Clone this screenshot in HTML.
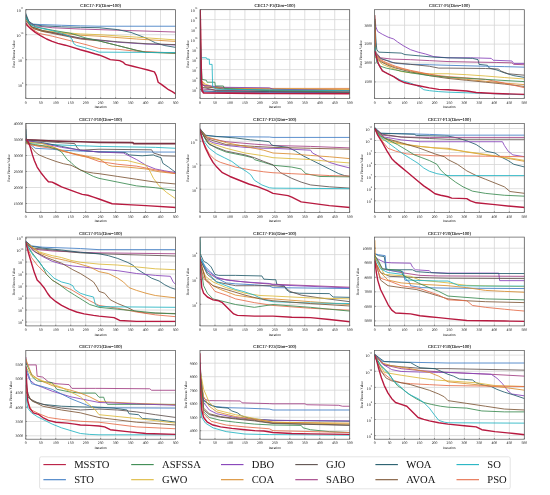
<!DOCTYPE html><html><head><meta charset="utf-8"><style>html,body{margin:0;padding:0;background:#fff;}svg{display:block;}text{font-family:"Liberation Serif","DejaVu Serif",serif;text-rendering:geometricPrecision;}</style></head><body>
<svg width="550" height="495" viewBox="0 0 550 495">
<rect width="550" height="495" fill="#fff"/>
<g stroke="#d6d6d6" stroke-width="0.8"><line x1="25.8" y1="9.7" x2="25.8" y2="98.5"/><line x1="40.77" y1="9.7" x2="40.77" y2="98.5"/><line x1="55.74" y1="9.7" x2="55.74" y2="98.5"/><line x1="70.71" y1="9.7" x2="70.71" y2="98.5"/><line x1="85.68" y1="9.7" x2="85.68" y2="98.5"/><line x1="100.65" y1="9.7" x2="100.65" y2="98.5"/><line x1="115.62" y1="9.7" x2="115.62" y2="98.5"/><line x1="130.59" y1="9.7" x2="130.59" y2="98.5"/><line x1="145.56" y1="9.7" x2="145.56" y2="98.5"/><line x1="160.53" y1="9.7" x2="160.53" y2="98.5"/><line x1="175.5" y1="9.7" x2="175.5" y2="98.5"/><line x1="25.8" y1="9.7" x2="175.5" y2="9.7"/><line x1="25.8" y1="34.7" x2="175.5" y2="34.7"/><line x1="25.8" y1="59.7" x2="175.5" y2="59.7"/><line x1="25.8" y1="84.8" x2="175.5" y2="84.8"/></g>
<g fill="none" stroke-linejoin="round" stroke-linecap="round" clip-path="url(#c0)"><polyline points="25.88,15.52 27.76,21.15 31.52,23.97 39.03,24.53 61.58,25.28 80.36,25.85 99,26.22 176.03,26.22" stroke="#3f7cc4" stroke-width="0.85"/><polyline points="25.88,15.52 29.64,23.03 35.27,25.85 52.18,27.73 80.36,29.04 99,29.61 176.03,32.05" stroke="#a03c82" stroke-width="0.85"/><polyline points="25.88,17.39 31.52,26.79 42.79,30.92 61.58,34.68 80.36,38.44 99,40.32 117.79,42.19 145.97,44.07 176.03,45.01" stroke="#8440b8" stroke-width="0.85"/><polyline points="25.88,13.64 28.7,21.15 33.39,24.53 42.79,25.85 61.58,26.79 80.36,27.35 99,27.73 117.79,29.61 130.94,32.42 145.97,38.06 155.36,42.76 164.76,45.58 176.03,47.45" stroke="#245c6c" stroke-width="0.85"/><polyline points="25.88,19.27 31.52,26.79 42.79,30.55 61.58,32.42 80.36,33.93 99,34.68 136.58,37.12 176.03,39.94" stroke="#dcb83a" stroke-width="0.85"/><polyline points="25.88,20.21 31.52,27.73 42.79,31.48 61.58,33.36 80.36,35.24 99,36.18 136.58,39 176.03,41.44" stroke="#d98c2e" stroke-width="0.85"/><polyline points="25.88,18.33 31.52,26.79 42.79,30.55 61.58,34.3 80.36,38.06 99,39.94 117.79,41.82 145.97,43.7 176.03,44.64" stroke="#5e524e" stroke-width="0.85"/><polyline points="25.88,21.15 33.39,28.67 42.79,31.48 61.58,35.24 80.36,39 99,40.88 117.79,45.58 136.58,50.27 145.97,52.15 176.03,53.09" stroke="#7d5636" stroke-width="0.85"/><polyline points="25.88,24.91 31.52,28.67 39.03,33.36 52.18,36.18 70.97,40.88 86,44.64 99,48.39 117.79,49.33 136.58,51.21 176.03,53.09" stroke="#e56c48" stroke-width="0.85"/><polyline points="25.88,16.45 29.64,23.97 35.27,26.79 52.18,30.17 70.97,33.36 86,38.06 99,40.88 117.79,45.58 136.58,50.46 145.97,52.34 176.03,53.28" stroke="#3a8a50" stroke-width="0.85"/><polyline points="25.88,17.39 29.64,23.97 35.27,26.79 42.79,28.67 52.18,30.55 61.58,33.36 69.09,36.18 71.91,39 73.79,43.7 76.61,45.58 84.12,47.45 95.39,50.84 99,52.15 176.03,52.53" stroke="#22b4c2" stroke-width="0.85"/><polyline points="25.88,23.03 27.76,25.85 30.58,28.67 35.27,32.42 40.91,35.81 46.55,39 52.18,41.44 57.82,43.32 65.33,45.2 72.85,47.45 80.36,49.71 87.88,51.78 95.39,54.03 99,54.97 104.64,57.22 110.27,59.67 119.67,60.61 123.42,62.48 125.3,64.36 132.82,66.24 140.33,68.12 147.85,70 154.42,71.88 156.3,75.64 158.18,82.21 161,84.09 164.76,86.91 168.52,89.73 172.27,91.61 176.03,94.05" stroke="#b81a40" stroke-width="1.4"/></g>
<clipPath id="c0"><rect x="25.8" y="9.7" width="149.7" height="88.8"/></clipPath>
<rect x="25.8" y="9.7" width="149.7" height="88.8" fill="none" stroke="#555" stroke-width="0.7"/>
<g stroke="#555" stroke-width="0.6"><line x1="25.8" y1="98.5" x2="25.8" y2="97.3"/><line x1="40.77" y1="98.5" x2="40.77" y2="97.3"/><line x1="55.74" y1="98.5" x2="55.74" y2="97.3"/><line x1="70.71" y1="98.5" x2="70.71" y2="97.3"/><line x1="85.68" y1="98.5" x2="85.68" y2="97.3"/><line x1="100.65" y1="98.5" x2="100.65" y2="97.3"/><line x1="115.62" y1="98.5" x2="115.62" y2="97.3"/><line x1="130.59" y1="98.5" x2="130.59" y2="97.3"/><line x1="145.56" y1="98.5" x2="145.56" y2="97.3"/><line x1="160.53" y1="98.5" x2="160.53" y2="97.3"/><line x1="175.5" y1="98.5" x2="175.5" y2="97.3"/><line x1="25.8" y1="9.7" x2="27" y2="9.7"/><line x1="25.8" y1="34.7" x2="27" y2="34.7"/><line x1="25.8" y1="59.7" x2="27" y2="59.7"/><line x1="25.8" y1="84.8" x2="27" y2="84.8"/></g>
<g fill="#000"><text transform="translate(25.8 103.7) scale(0.1)" font-size="38" text-anchor="middle">0</text><text transform="translate(40.77 103.7) scale(0.1)" font-size="38" text-anchor="middle">50</text><text transform="translate(55.74 103.7) scale(0.1)" font-size="38" text-anchor="middle">100</text><text transform="translate(70.71 103.7) scale(0.1)" font-size="38" text-anchor="middle">150</text><text transform="translate(85.68 103.7) scale(0.1)" font-size="38" text-anchor="middle">200</text><text transform="translate(100.65 103.7) scale(0.1)" font-size="38" text-anchor="middle">250</text><text transform="translate(115.62 103.7) scale(0.1)" font-size="38" text-anchor="middle">300</text><text transform="translate(130.59 103.7) scale(0.1)" font-size="38" text-anchor="middle">350</text><text transform="translate(145.56 103.7) scale(0.1)" font-size="38" text-anchor="middle">400</text><text transform="translate(160.53 103.7) scale(0.1)" font-size="38" text-anchor="middle">450</text><text transform="translate(175.5 103.7) scale(0.1)" font-size="38" text-anchor="middle">500</text><text transform="translate(23.2 12) scale(0.1)" font-size="40" text-anchor="end">10<tspan font-size="26" dy="-29">11</tspan></text><text transform="translate(23.2 37) scale(0.1)" font-size="40" text-anchor="end">10<tspan font-size="26" dy="-29">10</tspan></text><text transform="translate(23.2 62) scale(0.1)" font-size="40" text-anchor="end">10<tspan font-size="26" dy="-29">9</tspan></text><text transform="translate(23.2 87.1) scale(0.1)" font-size="40" text-anchor="end">10<tspan font-size="26" dy="-29">8</tspan></text><text transform="translate(100.65 108.4) scale(0.1)" font-size="36" text-anchor="middle">Iteration</text><text transform="translate(14.6 54.1) rotate(-90) scale(0.1)" font-size="37" text-anchor="middle">Best Fitness Value</text><text transform="translate(100.65 7.2) scale(0.1)" font-size="46" text-anchor="middle" stroke="#000" stroke-width="0.5">CEC17-F1(Dim=100)</text></g>
<g stroke="#d6d6d6" stroke-width="0.8"><line x1="200" y1="9.7" x2="200" y2="98.5"/><line x1="214.97" y1="9.7" x2="214.97" y2="98.5"/><line x1="229.94" y1="9.7" x2="229.94" y2="98.5"/><line x1="244.91" y1="9.7" x2="244.91" y2="98.5"/><line x1="259.88" y1="9.7" x2="259.88" y2="98.5"/><line x1="274.85" y1="9.7" x2="274.85" y2="98.5"/><line x1="289.82" y1="9.7" x2="289.82" y2="98.5"/><line x1="304.79" y1="9.7" x2="304.79" y2="98.5"/><line x1="319.76" y1="9.7" x2="319.76" y2="98.5"/><line x1="334.73" y1="9.7" x2="334.73" y2="98.5"/><line x1="349.7" y1="9.7" x2="349.7" y2="98.5"/><line x1="200" y1="9.6" x2="349.7" y2="9.6"/><line x1="200" y1="19.6" x2="349.7" y2="19.6"/><line x1="200" y1="29.7" x2="349.7" y2="29.7"/><line x1="200" y1="39.7" x2="349.7" y2="39.7"/><line x1="200" y1="49.7" x2="349.7" y2="49.7"/><line x1="200" y1="59.5" x2="349.7" y2="59.5"/><line x1="200" y1="69.6" x2="349.7" y2="69.6"/><line x1="200" y1="79.6" x2="349.7" y2="79.6"/><line x1="200" y1="89.5" x2="349.7" y2="89.5"/></g>
<g fill="none" stroke-linejoin="round" stroke-linecap="round" clip-path="url(#c1)"><polyline points="200.25,8.94 200.82,45.58 201.19,77.52 201.76,83.15 205.52,86.91 235.58,88.41 269.39,88.41 273,88.41 350.03,88.41" stroke="#e56c48" stroke-width="0.85"/><polyline points="200.25,26.79 201.01,80.33 205.52,84.09 213.03,86.91 235.58,87.85 269.39,88.41 273,88.79 350.03,89.16" stroke="#dcb83a" stroke-width="0.85"/><polyline points="200.25,30.55 201.38,81.27 205.52,85.03 216.79,87.85 269.39,89.16 273,89.16 350.03,89.92" stroke="#d98c2e" stroke-width="0.85"/><polyline points="200.25,36.18 201.01,85.03 222.42,87.28 269.39,87.85 273,89.16 350.03,90.67" stroke="#8440b8" stroke-width="0.85"/><polyline points="200.25,41.82 201.01,83.15 205.52,86.91 226.18,89.16 269.39,90.29 273,90.29 316.21,90.67 350.03,91.04" stroke="#7d5636" stroke-width="0.85"/><polyline points="200.25,45.58 201.38,88.79 216.79,90.29 269.39,91.04 273,91.23 350.03,91.98" stroke="#a03c82" stroke-width="0.85"/><polyline points="200.25,49.33 201.38,86.91 216.79,90.67 269.39,91.61 273,91.61 350.03,92.55" stroke="#5e524e" stroke-width="0.85"/><polyline points="200.25,45.58 201.38,90.67 216.79,91.61 269.39,91.98 273,92.17 350.03,92.92" stroke="#245c6c" stroke-width="0.85"/><polyline points="200.25,54.97 201.76,91.61 216.79,92.17 269.39,92.55 273,92.55 350.03,92.92" stroke="#3f7cc4" stroke-width="0.85"/><polyline points="200.25,45.58 202.13,79.39 206.45,80.33 207.02,82.21 214.91,82.21 215.28,85.97 223.36,85.97 224.3,88.41 269.39,90.67 273,90.67 350.03,92.17" stroke="#3a8a50" stroke-width="0.85"/><polyline points="200.25,36.18 201.38,57.79 206.45,57.79 207.02,59.1 209.27,59.1 209.46,64.36 212.09,64.36 212.65,86.91 216.79,89.16 269.39,89.92 273,89.92 350.03,90.67" stroke="#22b4c2" stroke-width="0.85"/><polyline points="200.07,9.88 200.44,26.79 200.82,54.97 201.38,79.39 202.13,90.67 203.64,92.92 269.39,93.48 273,93.48 350.03,93.67" stroke="#b81a40" stroke-width="1.7"/></g>
<clipPath id="c1"><rect x="200" y="9.7" width="149.7" height="88.8"/></clipPath>
<rect x="200" y="9.7" width="149.7" height="88.8" fill="none" stroke="#555" stroke-width="0.7"/>
<g stroke="#555" stroke-width="0.6"><line x1="200" y1="98.5" x2="200" y2="97.3"/><line x1="214.97" y1="98.5" x2="214.97" y2="97.3"/><line x1="229.94" y1="98.5" x2="229.94" y2="97.3"/><line x1="244.91" y1="98.5" x2="244.91" y2="97.3"/><line x1="259.88" y1="98.5" x2="259.88" y2="97.3"/><line x1="274.85" y1="98.5" x2="274.85" y2="97.3"/><line x1="289.82" y1="98.5" x2="289.82" y2="97.3"/><line x1="304.79" y1="98.5" x2="304.79" y2="97.3"/><line x1="319.76" y1="98.5" x2="319.76" y2="97.3"/><line x1="334.73" y1="98.5" x2="334.73" y2="97.3"/><line x1="349.7" y1="98.5" x2="349.7" y2="97.3"/><line x1="200" y1="9.6" x2="201.2" y2="9.6"/><line x1="200" y1="19.6" x2="201.2" y2="19.6"/><line x1="200" y1="29.7" x2="201.2" y2="29.7"/><line x1="200" y1="39.7" x2="201.2" y2="39.7"/><line x1="200" y1="49.7" x2="201.2" y2="49.7"/><line x1="200" y1="59.5" x2="201.2" y2="59.5"/><line x1="200" y1="69.6" x2="201.2" y2="69.6"/><line x1="200" y1="79.6" x2="201.2" y2="79.6"/><line x1="200" y1="89.5" x2="201.2" y2="89.5"/></g>
<g fill="#000"><text transform="translate(200 103.7) scale(0.1)" font-size="38" text-anchor="middle">0</text><text transform="translate(214.97 103.7) scale(0.1)" font-size="38" text-anchor="middle">50</text><text transform="translate(229.94 103.7) scale(0.1)" font-size="38" text-anchor="middle">100</text><text transform="translate(244.91 103.7) scale(0.1)" font-size="38" text-anchor="middle">150</text><text transform="translate(259.88 103.7) scale(0.1)" font-size="38" text-anchor="middle">200</text><text transform="translate(274.85 103.7) scale(0.1)" font-size="38" text-anchor="middle">250</text><text transform="translate(289.82 103.7) scale(0.1)" font-size="38" text-anchor="middle">300</text><text transform="translate(304.79 103.7) scale(0.1)" font-size="38" text-anchor="middle">350</text><text transform="translate(319.76 103.7) scale(0.1)" font-size="38" text-anchor="middle">400</text><text transform="translate(334.73 103.7) scale(0.1)" font-size="38" text-anchor="middle">450</text><text transform="translate(349.7 103.7) scale(0.1)" font-size="38" text-anchor="middle">500</text><text transform="translate(197.4 11.9) scale(0.1)" font-size="40" text-anchor="end">10<tspan font-size="26" dy="-29">13</tspan></text><text transform="translate(197.4 21.9) scale(0.1)" font-size="40" text-anchor="end">10<tspan font-size="26" dy="-29">12</tspan></text><text transform="translate(197.4 32) scale(0.1)" font-size="40" text-anchor="end">10<tspan font-size="26" dy="-29">11</tspan></text><text transform="translate(197.4 42) scale(0.1)" font-size="40" text-anchor="end">10<tspan font-size="26" dy="-29">10</tspan></text><text transform="translate(197.4 52) scale(0.1)" font-size="40" text-anchor="end">10<tspan font-size="26" dy="-29">9</tspan></text><text transform="translate(197.4 61.8) scale(0.1)" font-size="40" text-anchor="end">10<tspan font-size="26" dy="-29">8</tspan></text><text transform="translate(197.4 71.9) scale(0.1)" font-size="40" text-anchor="end">10<tspan font-size="26" dy="-29">7</tspan></text><text transform="translate(197.4 81.9) scale(0.1)" font-size="40" text-anchor="end">10<tspan font-size="26" dy="-29">6</tspan></text><text transform="translate(197.4 91.8) scale(0.1)" font-size="40" text-anchor="end">10<tspan font-size="26" dy="-29">5</tspan></text><text transform="translate(274.85 108.4) scale(0.1)" font-size="36" text-anchor="middle">Iteration</text><text transform="translate(189.3 54.1) rotate(-90) scale(0.1)" font-size="37" text-anchor="middle">Best Fitness Value</text><text transform="translate(274.85 7.2) scale(0.1)" font-size="46" text-anchor="middle" stroke="#000" stroke-width="0.5">CEC17-F3(Dim=100)</text></g>
<g stroke="#d6d6d6" stroke-width="0.8"><line x1="374.6" y1="9.7" x2="374.6" y2="98.5"/><line x1="389.57" y1="9.7" x2="389.57" y2="98.5"/><line x1="404.54" y1="9.7" x2="404.54" y2="98.5"/><line x1="419.51" y1="9.7" x2="419.51" y2="98.5"/><line x1="434.48" y1="9.7" x2="434.48" y2="98.5"/><line x1="449.45" y1="9.7" x2="449.45" y2="98.5"/><line x1="464.42" y1="9.7" x2="464.42" y2="98.5"/><line x1="479.39" y1="9.7" x2="479.39" y2="98.5"/><line x1="494.36" y1="9.7" x2="494.36" y2="98.5"/><line x1="509.33" y1="9.7" x2="509.33" y2="98.5"/><line x1="524.3" y1="9.7" x2="524.3" y2="98.5"/><line x1="374.6" y1="25.2" x2="524.3" y2="25.2"/><line x1="374.6" y1="44.1" x2="524.3" y2="44.1"/><line x1="374.6" y1="63" x2="524.3" y2="63"/><line x1="374.6" y1="81.9" x2="524.3" y2="81.9"/></g>
<g fill="none" stroke-linejoin="round" stroke-linecap="round" clip-path="url(#c2)"><polyline points="374.88,15.52 375.82,26.79 377.7,31.48 382.39,34.3 388.03,37.12 393.67,39 397.42,41.82 403.06,45.58 410.58,49.71 418.09,52.15 425.61,54.03 433.12,56.47 440.64,57.22 448,57.79 470.55,57.79 491.21,58.35 493.09,60.23 511.88,60.98 513.76,63.42 525.03,63.42" stroke="#8440b8" stroke-width="0.85"/><polyline points="374.88,21.15 375.82,38.06 376.76,49.33 378.64,52.15 388.03,52.53 401.18,53.09 404.94,54.59 419.97,55.91 435,57.22 448,57.79 472.42,58.35 478.06,59.67 479,64.36 487.45,65.3 489.33,68.12 496.85,70 504.36,72.82 513.76,75.64 525.03,77.52" stroke="#245c6c" stroke-width="0.85"/><polyline points="374.88,51.21 380.52,57.79 391.79,59.1 410.58,59.67 429.36,60.61 448,61.55 476.18,62.11 496.85,62.48 511.88,62.86 513.76,64.36 525.03,64.74" stroke="#a03c82" stroke-width="0.85"/><polyline points="374.88,53.09 380.52,58.73 388.03,60.61 395.55,63.42 410.58,64.36 429.36,64.74 448,65.3 485.58,66.24 504.36,66.62 525.03,67.18" stroke="#3f7cc4" stroke-width="0.85"/><polyline points="374.88,52.15 380.52,58.35 391.79,62.48 410.58,64.36 429.36,66.24 438.76,68.12 448,68.12 485.58,68.5 498.73,69.06 500.61,70.94 508.12,73.76 525.03,75.26" stroke="#5e524e" stroke-width="0.85"/><polyline points="374.88,56.85 382.39,64.36 391.79,68.12 401.18,71.5 410.58,72.82 429.36,73.76 448,73.76 466.79,74.7 485.58,76.01 504.36,77.52 525.03,79.02" stroke="#dcb83a" stroke-width="0.85"/><polyline points="374.88,15.52 375.25,36.18 375.63,54.03 380.52,60.61 388.03,64.36 395.55,67.18 403.06,69.06 410.58,70.94 419.97,72.82 429.36,74.7 438.76,76.01 448,77.52 466.79,79.39 485.58,81.27 504.36,83.15 525.03,84.65" stroke="#d98c2e" stroke-width="0.85"/><polyline points="375.07,19.27 375.44,39.94 375.82,55.91 380.52,61.55 388.03,65.3 395.55,68.12 403.06,70 410.58,71.88 419.97,73.76 429.36,75.64 438.76,77.14 448,78.45 466.79,80.33 485.58,82.21 504.36,84.09 525.03,86.53" stroke="#7d5636" stroke-width="0.85"/><polyline points="374.88,30.55 375.25,45.58 375.63,54.03 380.52,59.67 388.03,63.42 395.55,66.24 403.06,68.5 410.58,70.38 419.97,72.25 429.36,74.13 438.76,75.64 448,76.58 466.79,77.89 485.58,79.39 504.36,83.15 525.03,87.85" stroke="#e56c48" stroke-width="0.85"/><polyline points="374.88,45.58 376.76,62.48 380.52,66.24 386.15,68.12 395.55,70 410.58,72.82 429.36,75.64 448,77.14 485.58,79.39 525.03,81.65" stroke="#3a8a50" stroke-width="0.85"/><polyline points="374.88,47.45 376.76,60.61 380.52,68.12 384.27,71.88 391.79,75.64 401.18,80.33 410.58,83.15 419.97,86.91 423.73,89.73 429.36,90.67 438.76,91.61 448,92.17 525.03,94.8" stroke="#22b4c2" stroke-width="0.85"/><polyline points="374.88,51.21 376.38,56.85 378.64,64.36 382.39,70.94 388.03,73.76 393.67,76.58 399.3,80.33 404.94,82.78 410.58,84.09 419.97,85.97 429.36,87.85 438.76,89.35 448,89.73 466.79,91.04 476.18,92.55 494.97,93.48 525.03,94.42" stroke="#b81a40" stroke-width="1.4"/></g>
<clipPath id="c2"><rect x="374.6" y="9.7" width="149.7" height="88.8"/></clipPath>
<rect x="374.6" y="9.7" width="149.7" height="88.8" fill="none" stroke="#555" stroke-width="0.7"/>
<g stroke="#555" stroke-width="0.6"><line x1="374.6" y1="98.5" x2="374.6" y2="97.3"/><line x1="389.57" y1="98.5" x2="389.57" y2="97.3"/><line x1="404.54" y1="98.5" x2="404.54" y2="97.3"/><line x1="419.51" y1="98.5" x2="419.51" y2="97.3"/><line x1="434.48" y1="98.5" x2="434.48" y2="97.3"/><line x1="449.45" y1="98.5" x2="449.45" y2="97.3"/><line x1="464.42" y1="98.5" x2="464.42" y2="97.3"/><line x1="479.39" y1="98.5" x2="479.39" y2="97.3"/><line x1="494.36" y1="98.5" x2="494.36" y2="97.3"/><line x1="509.33" y1="98.5" x2="509.33" y2="97.3"/><line x1="524.3" y1="98.5" x2="524.3" y2="97.3"/><line x1="374.6" y1="25.2" x2="375.8" y2="25.2"/><line x1="374.6" y1="44.1" x2="375.8" y2="44.1"/><line x1="374.6" y1="63" x2="375.8" y2="63"/><line x1="374.6" y1="81.9" x2="375.8" y2="81.9"/></g>
<g fill="#000"><text transform="translate(374.6 103.7) scale(0.1)" font-size="38" text-anchor="middle">0</text><text transform="translate(389.57 103.7) scale(0.1)" font-size="38" text-anchor="middle">50</text><text transform="translate(404.54 103.7) scale(0.1)" font-size="38" text-anchor="middle">100</text><text transform="translate(419.51 103.7) scale(0.1)" font-size="38" text-anchor="middle">150</text><text transform="translate(434.48 103.7) scale(0.1)" font-size="38" text-anchor="middle">200</text><text transform="translate(449.45 103.7) scale(0.1)" font-size="38" text-anchor="middle">250</text><text transform="translate(464.42 103.7) scale(0.1)" font-size="38" text-anchor="middle">300</text><text transform="translate(479.39 103.7) scale(0.1)" font-size="38" text-anchor="middle">350</text><text transform="translate(494.36 103.7) scale(0.1)" font-size="38" text-anchor="middle">400</text><text transform="translate(509.33 103.7) scale(0.1)" font-size="38" text-anchor="middle">450</text><text transform="translate(524.3 103.7) scale(0.1)" font-size="38" text-anchor="middle">500</text><text transform="translate(372 26.5) scale(0.1)" font-size="38" text-anchor="end">3000</text><text transform="translate(372 45.4) scale(0.1)" font-size="38" text-anchor="end">2500</text><text transform="translate(372 64.3) scale(0.1)" font-size="38" text-anchor="end">2000</text><text transform="translate(372 83.2) scale(0.1)" font-size="38" text-anchor="end">1500</text><text transform="translate(449.45 108.4) scale(0.1)" font-size="36" text-anchor="middle">Iteration</text><text transform="translate(361.7 54.1) rotate(-90) scale(0.1)" font-size="37" text-anchor="middle">Best Fitness Value</text><text transform="translate(449.45 7.2) scale(0.1)" font-size="46" text-anchor="middle" stroke="#000" stroke-width="0.5">CEC17-F5(Dim=100)</text></g>
<g stroke="#d6d6d6" stroke-width="0.8"><line x1="25.8" y1="123.6" x2="25.8" y2="212.4"/><line x1="40.77" y1="123.6" x2="40.77" y2="212.4"/><line x1="55.74" y1="123.6" x2="55.74" y2="212.4"/><line x1="70.71" y1="123.6" x2="70.71" y2="212.4"/><line x1="85.68" y1="123.6" x2="85.68" y2="212.4"/><line x1="100.65" y1="123.6" x2="100.65" y2="212.4"/><line x1="115.62" y1="123.6" x2="115.62" y2="212.4"/><line x1="130.59" y1="123.6" x2="130.59" y2="212.4"/><line x1="145.56" y1="123.6" x2="145.56" y2="212.4"/><line x1="160.53" y1="123.6" x2="160.53" y2="212.4"/><line x1="175.5" y1="123.6" x2="175.5" y2="212.4"/><line x1="25.8" y1="123.6" x2="175.5" y2="123.6"/><line x1="25.8" y1="139.6" x2="175.5" y2="139.6"/><line x1="25.8" y1="155.5" x2="175.5" y2="155.5"/><line x1="25.8" y1="171.5" x2="175.5" y2="171.5"/><line x1="25.8" y1="187.5" x2="175.5" y2="187.5"/><line x1="25.8" y1="203.5" x2="175.5" y2="203.5"/></g>
<g fill="none" stroke-linejoin="round" stroke-linecap="round" clip-path="url(#c3)"><polyline points="25.88,139.85 35.27,140.22 48.42,140.79 80.36,141.73 99,142.29 132.82,142.67 133.76,143.61 176.03,143.61" stroke="#7a3040" stroke-width="1.7"/><polyline points="25.88,124.82 26.07,133.27 26.44,139.85 46.55,141.73 74.73,143.61 77.55,148.3 80.36,150.18 99,149.24 151.61,149.81 153.48,153 162.88,155.82 176.03,156.19" stroke="#5e524e" stroke-width="0.85"/><polyline points="25.88,140.79 31.52,142.67 52.18,144.55 70.97,145.48 89.76,146.05 99,146.42 155.36,147.36 176.03,148.3" stroke="#22b4c2" stroke-width="0.85"/><polyline points="25.88,140.79 35.27,148.3 52.18,149.24 61.58,150.18 80.36,151.12 99,151.68 155.36,152.06 176.03,152.06" stroke="#3f7cc4" stroke-width="0.85"/><polyline points="25.88,129.52 26.25,140.79 42.79,142.67 61.58,146.42 80.36,150.18 99,152.06 125.3,152.44 129.06,154.88 142.21,155.82 153.48,154.88 155.36,155.82 161,157.7 162.88,163.33 168.52,167.09 172.27,169.91 176.03,172.73" stroke="#245c6c" stroke-width="0.85"/><polyline points="25.88,140.41 39.03,142.67 61.58,147.36 80.36,150.18 99,152.06 123.42,153 136.58,159.58 145.97,165.21 155.36,168.97 164.76,170.85 176.03,172.73" stroke="#8440b8" stroke-width="0.85"/><polyline points="25.88,141.73 33.39,142.67 42.79,143.61 61.58,150.18 80.36,155.82 99,159.58 127.18,160.52 145.97,165.21 149.73,170.85 153.48,178.36 159.12,185.88 166.64,192.45 176.03,199.03" stroke="#dcb83a" stroke-width="0.85"/><polyline points="25.88,142.67 35.27,145.48 52.18,146.42 61.58,151.12 70.97,153 80.36,154.88 89.76,156.76 99,158.64 108.39,165.21 112.15,166.15 127.18,167.09 145.97,168.97 159.12,171.79 176.03,173.67" stroke="#d98c2e" stroke-width="0.85"/><polyline points="25.88,143.61 39.03,146.42 57.82,149.24 72.85,153.94 86,156.76 99,161.45 117.79,164.27 136.58,166.15 155.36,169.91 176.03,173.67" stroke="#e56c48" stroke-width="0.85"/><polyline points="25.88,142.67 35.27,144.55 46.55,146.42 56.88,149.24 61.58,152.06 64.39,155.82 67.21,159.58 70.97,162.39 74.73,166.15 80.36,169.91 86,172.73 93.52,176.48 99,178.36 117.79,182.12 136.58,185.88 155.36,187.76 176.03,190.58" stroke="#3a8a50" stroke-width="0.85"/><polyline points="25.88,140.79 31.52,147.36 35.27,152.06 39.03,154.88 46.55,158.07 55.94,161.45 63.45,163.71 70.97,165.21 76.61,168.03 80.36,169.91 86,171.79 93.52,173.1 99,173.67 117.79,176.48 136.58,179.3 155.36,182.12 176.03,184" stroke="#7d5636" stroke-width="0.85"/><polyline points="25.88,138.91 28.7,142.67 30.58,148.3 32.45,154.88 34.33,160.52 37.15,167.09 40.91,172.73 44.67,177.42 48.42,181.75 52.18,182.12 55.94,184 61.58,186.82 69.09,189.64 76.61,192.45 82.24,194.33 87.88,195.27 93.52,197.15 99,199.03 112.15,203.73 127.18,204.67 145.97,205.61 176.03,207.48" stroke="#b81a40" stroke-width="1.4"/></g>
<clipPath id="c3"><rect x="25.8" y="123.6" width="149.7" height="88.8"/></clipPath>
<rect x="25.8" y="123.6" width="149.7" height="88.8" fill="none" stroke="#555" stroke-width="0.7"/>
<g stroke="#555" stroke-width="0.6"><line x1="25.8" y1="212.4" x2="25.8" y2="211.2"/><line x1="40.77" y1="212.4" x2="40.77" y2="211.2"/><line x1="55.74" y1="212.4" x2="55.74" y2="211.2"/><line x1="70.71" y1="212.4" x2="70.71" y2="211.2"/><line x1="85.68" y1="212.4" x2="85.68" y2="211.2"/><line x1="100.65" y1="212.4" x2="100.65" y2="211.2"/><line x1="115.62" y1="212.4" x2="115.62" y2="211.2"/><line x1="130.59" y1="212.4" x2="130.59" y2="211.2"/><line x1="145.56" y1="212.4" x2="145.56" y2="211.2"/><line x1="160.53" y1="212.4" x2="160.53" y2="211.2"/><line x1="175.5" y1="212.4" x2="175.5" y2="211.2"/><line x1="25.8" y1="123.6" x2="27" y2="123.6"/><line x1="25.8" y1="139.6" x2="27" y2="139.6"/><line x1="25.8" y1="155.5" x2="27" y2="155.5"/><line x1="25.8" y1="171.5" x2="27" y2="171.5"/><line x1="25.8" y1="187.5" x2="27" y2="187.5"/><line x1="25.8" y1="203.5" x2="27" y2="203.5"/></g>
<g fill="#000"><text transform="translate(25.8 217.6) scale(0.1)" font-size="38" text-anchor="middle">0</text><text transform="translate(40.77 217.6) scale(0.1)" font-size="38" text-anchor="middle">50</text><text transform="translate(55.74 217.6) scale(0.1)" font-size="38" text-anchor="middle">100</text><text transform="translate(70.71 217.6) scale(0.1)" font-size="38" text-anchor="middle">150</text><text transform="translate(85.68 217.6) scale(0.1)" font-size="38" text-anchor="middle">200</text><text transform="translate(100.65 217.6) scale(0.1)" font-size="38" text-anchor="middle">250</text><text transform="translate(115.62 217.6) scale(0.1)" font-size="38" text-anchor="middle">300</text><text transform="translate(130.59 217.6) scale(0.1)" font-size="38" text-anchor="middle">350</text><text transform="translate(145.56 217.6) scale(0.1)" font-size="38" text-anchor="middle">400</text><text transform="translate(160.53 217.6) scale(0.1)" font-size="38" text-anchor="middle">450</text><text transform="translate(175.5 217.6) scale(0.1)" font-size="38" text-anchor="middle">500</text><text transform="translate(23.2 124.9) scale(0.1)" font-size="38" text-anchor="end">40000</text><text transform="translate(23.2 140.9) scale(0.1)" font-size="38" text-anchor="end">35000</text><text transform="translate(23.2 156.8) scale(0.1)" font-size="38" text-anchor="end">30000</text><text transform="translate(23.2 172.8) scale(0.1)" font-size="38" text-anchor="end">25000</text><text transform="translate(23.2 188.8) scale(0.1)" font-size="38" text-anchor="end">20000</text><text transform="translate(23.2 204.8) scale(0.1)" font-size="38" text-anchor="end">15000</text><text transform="translate(100.65 222.3) scale(0.1)" font-size="36" text-anchor="middle">Iteration</text><text transform="translate(10.3 168) rotate(-90) scale(0.1)" font-size="37" text-anchor="middle">Best Fitness Value</text><text transform="translate(100.65 121.1) scale(0.1)" font-size="46" text-anchor="middle" stroke="#000" stroke-width="0.5">CEC17-F10(Dim=100)</text></g>
<g stroke="#d6d6d6" stroke-width="0.8"><line x1="200" y1="123.6" x2="200" y2="212.4"/><line x1="214.97" y1="123.6" x2="214.97" y2="212.4"/><line x1="229.94" y1="123.6" x2="229.94" y2="212.4"/><line x1="244.91" y1="123.6" x2="244.91" y2="212.4"/><line x1="259.88" y1="123.6" x2="259.88" y2="212.4"/><line x1="274.85" y1="123.6" x2="274.85" y2="212.4"/><line x1="289.82" y1="123.6" x2="289.82" y2="212.4"/><line x1="304.79" y1="123.6" x2="304.79" y2="212.4"/><line x1="319.76" y1="123.6" x2="319.76" y2="212.4"/><line x1="334.73" y1="123.6" x2="334.73" y2="212.4"/><line x1="349.7" y1="123.6" x2="349.7" y2="212.4"/><line x1="200" y1="141.3" x2="349.7" y2="141.3"/><line x1="200" y1="165.2" x2="349.7" y2="165.2"/><line x1="200" y1="189.2" x2="349.7" y2="189.2"/></g>
<g fill="none" stroke-linejoin="round" stroke-linecap="round" clip-path="url(#c4)"><polyline points="199.88,128.58 205.52,135.15 216.79,136.65 269.39,137.03 273,137.41 350.03,137.41" stroke="#3f7cc4" stroke-width="0.85"/><polyline points="199.88,129.52 207.39,137.97 226.18,141.73 254.36,144.17 273,145.48 310.58,146.42 350.03,147.93" stroke="#a03c82" stroke-width="0.85"/><polyline points="199.88,128.58 205.52,135.53 235.58,137.97 250.61,139.85 261.88,140.79 269.39,141.73 271.27,144.55 273,145.48 288.03,147.36 295.55,151.12 303.06,155.82 310.58,159.58 319.97,164.27 329.36,168.97 338.76,173.67 344.39,175.55 350.03,176.48" stroke="#245c6c" stroke-width="0.85"/><polyline points="199.88,129.52 205.52,138.91 213.03,142.67 226.18,145.48 244.97,147.36 263.76,148.3 273,148.3 310.58,150.18 312.45,153 318.09,155.82 323.73,159.58 329.36,162.39 338.76,165.21 350.03,168.03" stroke="#8440b8" stroke-width="0.85"/><polyline points="199.88,129.52 207.39,138.91 226.18,144.55 254.36,146.42 273,147.36 310.58,148.3 350.03,149.24" stroke="#7d5636" stroke-width="0.85"/><polyline points="199.88,129.52 207.39,137.03 226.18,142.67 244.97,146.42 263.76,150.18 273,153 291.79,153.94 310.58,155.44 329.36,156.76 350.03,158.64" stroke="#d98c2e" stroke-width="0.85"/><polyline points="199.88,130.45 209.27,142.67 226.18,148.3 244.97,153 263.76,155.82 273,157.7 310.58,159.58 329.36,161.45 350.03,162.96" stroke="#dcb83a" stroke-width="0.85"/><polyline points="199.88,129.52 207.39,142.67 216.79,148.3 226.18,152.06 235.58,153.94 244.97,155.82 252.48,157.7 254.36,159.58 263.76,162.39 273,165.21 291.79,167.09 301.18,168.97 305.88,173.67 319.97,176.48 350.03,176.86" stroke="#3a8a50" stroke-width="0.85"/><polyline points="199.88,129.52 209.27,144.55 226.18,151.12 244.97,154.88 254.36,157.7 263.76,161.45 273,164.84 280.52,172.73 291.79,178.36 301.18,182.12 310.58,184.94 329.36,186.82 350.03,188.13" stroke="#5e524e" stroke-width="0.85"/><polyline points="199.88,130.45 203.64,142.67 209.27,153.94 214.91,159.58 220.55,162.39 235.58,167.09 250.61,169.91 263.76,171.79 273,172.73 291.79,173.67 310.58,174.61 329.36,175.55 350.03,176.11" stroke="#e56c48" stroke-width="0.85"/><polyline points="199.88,131.39 203.64,140.79 209.27,148.3 216.79,153.94 224.3,157.7 231.82,161.45 239.33,167.09 246.85,171.79 250.61,174.61 254.36,180.24 261.88,184.94 269.39,187.76 273,188.13 350.03,188.7" stroke="#22b4c2" stroke-width="0.85"/><polyline points="199.88,129.52 202.7,140.79 205.52,148.3 209.27,155.82 213.03,162.39 216.79,167.09 222.42,172.73 229.94,176.48 239.33,180.24 248.73,184 258.12,186.82 267.52,190.58 273,193.39 288.03,195.65 291.79,197.15 301.18,201.85 310.58,203.16 329.36,205.61 350.03,207.48" stroke="#b81a40" stroke-width="1.4"/></g>
<clipPath id="c4"><rect x="200" y="123.6" width="149.7" height="88.8"/></clipPath>
<rect x="200" y="123.6" width="149.7" height="88.8" fill="none" stroke="#555" stroke-width="0.7"/>
<g stroke="#555" stroke-width="0.6"><line x1="200" y1="212.4" x2="200" y2="211.2"/><line x1="214.97" y1="212.4" x2="214.97" y2="211.2"/><line x1="229.94" y1="212.4" x2="229.94" y2="211.2"/><line x1="244.91" y1="212.4" x2="244.91" y2="211.2"/><line x1="259.88" y1="212.4" x2="259.88" y2="211.2"/><line x1="274.85" y1="212.4" x2="274.85" y2="211.2"/><line x1="289.82" y1="212.4" x2="289.82" y2="211.2"/><line x1="304.79" y1="212.4" x2="304.79" y2="211.2"/><line x1="319.76" y1="212.4" x2="319.76" y2="211.2"/><line x1="334.73" y1="212.4" x2="334.73" y2="211.2"/><line x1="349.7" y1="212.4" x2="349.7" y2="211.2"/><line x1="200" y1="141.3" x2="201.2" y2="141.3"/><line x1="200" y1="165.2" x2="201.2" y2="165.2"/><line x1="200" y1="189.2" x2="201.2" y2="189.2"/></g>
<g fill="#000"><text transform="translate(200 217.6) scale(0.1)" font-size="38" text-anchor="middle">0</text><text transform="translate(214.97 217.6) scale(0.1)" font-size="38" text-anchor="middle">50</text><text transform="translate(229.94 217.6) scale(0.1)" font-size="38" text-anchor="middle">100</text><text transform="translate(244.91 217.6) scale(0.1)" font-size="38" text-anchor="middle">150</text><text transform="translate(259.88 217.6) scale(0.1)" font-size="38" text-anchor="middle">200</text><text transform="translate(274.85 217.6) scale(0.1)" font-size="38" text-anchor="middle">250</text><text transform="translate(289.82 217.6) scale(0.1)" font-size="38" text-anchor="middle">300</text><text transform="translate(304.79 217.6) scale(0.1)" font-size="38" text-anchor="middle">350</text><text transform="translate(319.76 217.6) scale(0.1)" font-size="38" text-anchor="middle">400</text><text transform="translate(334.73 217.6) scale(0.1)" font-size="38" text-anchor="middle">450</text><text transform="translate(349.7 217.6) scale(0.1)" font-size="38" text-anchor="middle">500</text><text transform="translate(197.4 143.6) scale(0.1)" font-size="40" text-anchor="end">10<tspan font-size="26" dy="-29">10</tspan></text><text transform="translate(197.4 167.5) scale(0.1)" font-size="40" text-anchor="end">10<tspan font-size="26" dy="-29">9</tspan></text><text transform="translate(197.4 191.5) scale(0.1)" font-size="40" text-anchor="end">10<tspan font-size="26" dy="-29">8</tspan></text><text transform="translate(274.85 222.3) scale(0.1)" font-size="36" text-anchor="middle">Iteration</text><text transform="translate(188.7 168) rotate(-90) scale(0.1)" font-size="37" text-anchor="middle">Best Fitness Value</text><text transform="translate(274.85 121.1) scale(0.1)" font-size="46" text-anchor="middle" stroke="#000" stroke-width="0.5">CEC17-F12(Dim=100)</text></g>
<g stroke="#d6d6d6" stroke-width="0.8"><line x1="374.6" y1="123.6" x2="374.6" y2="212.4"/><line x1="389.57" y1="123.6" x2="389.57" y2="212.4"/><line x1="404.54" y1="123.6" x2="404.54" y2="212.4"/><line x1="419.51" y1="123.6" x2="419.51" y2="212.4"/><line x1="434.48" y1="123.6" x2="434.48" y2="212.4"/><line x1="449.45" y1="123.6" x2="449.45" y2="212.4"/><line x1="464.42" y1="123.6" x2="464.42" y2="212.4"/><line x1="479.39" y1="123.6" x2="479.39" y2="212.4"/><line x1="494.36" y1="123.6" x2="494.36" y2="212.4"/><line x1="509.33" y1="123.6" x2="509.33" y2="212.4"/><line x1="524.3" y1="123.6" x2="524.3" y2="212.4"/><line x1="374.6" y1="128.5" x2="524.3" y2="128.5"/><line x1="374.6" y1="140.5" x2="524.3" y2="140.5"/><line x1="374.6" y1="152.5" x2="524.3" y2="152.5"/><line x1="374.6" y1="164.5" x2="524.3" y2="164.5"/><line x1="374.6" y1="176.6" x2="524.3" y2="176.6"/><line x1="374.6" y1="188.7" x2="524.3" y2="188.7"/><line x1="374.6" y1="200.8" x2="524.3" y2="200.8"/></g>
<g fill="none" stroke-linejoin="round" stroke-linecap="round" clip-path="url(#c5)"><polyline points="374.88,127.64 380.52,133.27 401.18,133.65 429.36,134.4 448,135.15 525.03,135.15" stroke="#3f7cc4" stroke-width="0.85"/><polyline points="374.88,127.64 380.52,133.27 414.33,134.21 416.21,135.53 444.39,136.09 448,136.09 457.39,137.97 466.79,140.79 476.18,144.55 481.82,148.3 485.58,151.12 494.97,153 500.61,156.76 508.12,160.52 513.76,164.27 525.03,167.09" stroke="#245c6c" stroke-width="0.85"/><polyline points="374.88,128.58 382.39,135.15 401.18,137.03 429.36,137.41 448,137.41 525.03,137.41" stroke="#a03c82" stroke-width="0.85"/><polyline points="374.88,128.58 382.39,134.21 401.18,137.03 429.36,138.53 448,139.28 525.03,139.28" stroke="#5e524e" stroke-width="0.85"/><polyline points="374.88,128.58 384.27,137.03 401.18,139.85 419.97,141.73 448,141.73 502.48,141.73 504.36,145.48 508.12,151.12 512.82,154.88 525.03,156.76" stroke="#8440b8" stroke-width="0.85"/><polyline points="374.88,129.52 384.27,138.91 401.18,143.61 419.97,146.42 435,147.93 448,148.3 466.79,152.06 485.58,154.88 504.36,157.7 525.03,161.45" stroke="#d98c2e" stroke-width="0.85"/><polyline points="374.88,129.52 382.39,139.85 391.79,142.67 410.58,145.48 429.36,147.36 448,149.24 476.18,153 494.97,155.82 513.76,158.64 525.03,160.52" stroke="#dcb83a" stroke-width="0.85"/><polyline points="374.88,129.52 380.52,138.91 388.03,148.3 395.55,151.12 406.82,153.94 419.97,154.88 435,155.82 448,155.82 485.58,156.19 504.36,156.38 525.03,156.76" stroke="#e56c48" stroke-width="0.85"/><polyline points="374.88,128.58 384.27,137.97 401.18,142.67 419.97,148.3 435,153.94 444.39,156.76 448,159.58 457.39,164.27 466.79,170.85 476.18,175.55 485.58,179.3 494.97,183.06 504.36,186.82 510,191.52 525.03,193.39" stroke="#7d5636" stroke-width="0.85"/><polyline points="374.88,129.52 380.52,137.03 388.03,142.67 395.55,148.3 403.06,153.94 410.58,158.64 418.09,163.33 423.73,168.03 429.36,171.22 436.88,173.67 444.39,174.98 448,175.55 525.03,175.55" stroke="#22b4c2" stroke-width="0.85"/><polyline points="374.88,128.58 380.52,136.09 388.03,139.85 397.42,144.55 406.82,150.18 414.33,154.88 421.85,157.7 429.36,160.52 436.88,164.27 440.64,169.91 444.39,173.67 448,176.48 455.52,182.12 463.03,186.82 472.42,191.14 485.58,193.39 504.36,195.27 525.03,196.21" stroke="#3a8a50" stroke-width="0.85"/><polyline points="374.88,128.58 377.7,135.15 382.39,142.67 387.09,151.12 391.79,158.64 395.55,162.39 401.18,167.09 406.82,171.79 412.45,176.48 418.09,181.18 423.73,185.88 429.36,189.64 435,193.77 440.64,195.27 448,196.78 451.76,198.09 466.79,198.65 470.55,200.91 476.18,202.79 494.97,204.67 513.76,206.55 525.03,207.48" stroke="#b81a40" stroke-width="1.4"/></g>
<clipPath id="c5"><rect x="374.6" y="123.6" width="149.7" height="88.8"/></clipPath>
<rect x="374.6" y="123.6" width="149.7" height="88.8" fill="none" stroke="#555" stroke-width="0.7"/>
<g stroke="#555" stroke-width="0.6"><line x1="374.6" y1="212.4" x2="374.6" y2="211.2"/><line x1="389.57" y1="212.4" x2="389.57" y2="211.2"/><line x1="404.54" y1="212.4" x2="404.54" y2="211.2"/><line x1="419.51" y1="212.4" x2="419.51" y2="211.2"/><line x1="434.48" y1="212.4" x2="434.48" y2="211.2"/><line x1="449.45" y1="212.4" x2="449.45" y2="211.2"/><line x1="464.42" y1="212.4" x2="464.42" y2="211.2"/><line x1="479.39" y1="212.4" x2="479.39" y2="211.2"/><line x1="494.36" y1="212.4" x2="494.36" y2="211.2"/><line x1="509.33" y1="212.4" x2="509.33" y2="211.2"/><line x1="524.3" y1="212.4" x2="524.3" y2="211.2"/><line x1="374.6" y1="128.5" x2="375.8" y2="128.5"/><line x1="374.6" y1="140.5" x2="375.8" y2="140.5"/><line x1="374.6" y1="152.5" x2="375.8" y2="152.5"/><line x1="374.6" y1="164.5" x2="375.8" y2="164.5"/><line x1="374.6" y1="176.6" x2="375.8" y2="176.6"/><line x1="374.6" y1="188.7" x2="375.8" y2="188.7"/><line x1="374.6" y1="200.8" x2="375.8" y2="200.8"/></g>
<g fill="#000"><text transform="translate(374.6 217.6) scale(0.1)" font-size="38" text-anchor="middle">0</text><text transform="translate(389.57 217.6) scale(0.1)" font-size="38" text-anchor="middle">50</text><text transform="translate(404.54 217.6) scale(0.1)" font-size="38" text-anchor="middle">100</text><text transform="translate(419.51 217.6) scale(0.1)" font-size="38" text-anchor="middle">150</text><text transform="translate(434.48 217.6) scale(0.1)" font-size="38" text-anchor="middle">200</text><text transform="translate(449.45 217.6) scale(0.1)" font-size="38" text-anchor="middle">250</text><text transform="translate(464.42 217.6) scale(0.1)" font-size="38" text-anchor="middle">300</text><text transform="translate(479.39 217.6) scale(0.1)" font-size="38" text-anchor="middle">350</text><text transform="translate(494.36 217.6) scale(0.1)" font-size="38" text-anchor="middle">400</text><text transform="translate(509.33 217.6) scale(0.1)" font-size="38" text-anchor="middle">450</text><text transform="translate(524.3 217.6) scale(0.1)" font-size="38" text-anchor="middle">500</text><text transform="translate(372 130.8) scale(0.1)" font-size="40" text-anchor="end">10<tspan font-size="26" dy="-29">11</tspan></text><text transform="translate(372 142.8) scale(0.1)" font-size="40" text-anchor="end">10<tspan font-size="26" dy="-29">10</tspan></text><text transform="translate(372 154.8) scale(0.1)" font-size="40" text-anchor="end">10<tspan font-size="26" dy="-29">9</tspan></text><text transform="translate(372 166.8) scale(0.1)" font-size="40" text-anchor="end">10<tspan font-size="26" dy="-29">8</tspan></text><text transform="translate(372 178.9) scale(0.1)" font-size="40" text-anchor="end">10<tspan font-size="26" dy="-29">7</tspan></text><text transform="translate(372 191) scale(0.1)" font-size="40" text-anchor="end">10<tspan font-size="26" dy="-29">6</tspan></text><text transform="translate(372 203.1) scale(0.1)" font-size="40" text-anchor="end">10<tspan font-size="26" dy="-29">5</tspan></text><text transform="translate(449.45 222.3) scale(0.1)" font-size="36" text-anchor="middle">Iteration</text><text transform="translate(363.3 168) rotate(-90) scale(0.1)" font-size="37" text-anchor="middle">Best Fitness Value</text><text transform="translate(449.45 121.1) scale(0.1)" font-size="46" text-anchor="middle" stroke="#000" stroke-width="0.5">CEC17-F13(Dim=100)</text></g>
<g stroke="#d6d6d6" stroke-width="0.8"><line x1="25.8" y1="237.1" x2="25.8" y2="325.9"/><line x1="40.77" y1="237.1" x2="40.77" y2="325.9"/><line x1="55.74" y1="237.1" x2="55.74" y2="325.9"/><line x1="70.71" y1="237.1" x2="70.71" y2="325.9"/><line x1="85.68" y1="237.1" x2="85.68" y2="325.9"/><line x1="100.65" y1="237.1" x2="100.65" y2="325.9"/><line x1="115.62" y1="237.1" x2="115.62" y2="325.9"/><line x1="130.59" y1="237.1" x2="130.59" y2="325.9"/><line x1="145.56" y1="237.1" x2="145.56" y2="325.9"/><line x1="160.53" y1="237.1" x2="160.53" y2="325.9"/><line x1="175.5" y1="237.1" x2="175.5" y2="325.9"/><line x1="25.8" y1="238.1" x2="175.5" y2="238.1"/><line x1="25.8" y1="250.1" x2="175.5" y2="250.1"/><line x1="25.8" y1="262" x2="175.5" y2="262"/><line x1="25.8" y1="274" x2="175.5" y2="274"/><line x1="25.8" y1="286.1" x2="175.5" y2="286.1"/><line x1="25.8" y1="298.1" x2="175.5" y2="298.1"/><line x1="25.8" y1="310" x2="175.5" y2="310"/><line x1="25.8" y1="322" x2="175.5" y2="322"/></g>
<g fill="none" stroke-linejoin="round" stroke-linecap="round" clip-path="url(#c6)"><polyline points="25.88,241.58 31.52,245.9 42.79,247.21 80.36,248.53 99,249.65 176.03,249.65" stroke="#3f7cc4" stroke-width="0.85"/><polyline points="25.88,241.58 33.39,249.09 52.18,250.97 80.36,252.28 99,252.85 176.03,253.79" stroke="#a03c82" stroke-width="0.85"/><polyline points="25.88,241.58 33.39,248.15 52.18,250.03 80.36,252.85 99,253.79 176.03,256.04" stroke="#5e524e" stroke-width="0.85"/><polyline points="25.88,241.58 31.52,246.27 42.79,248.15 61.58,250.03 80.36,252.28 99,253.79 108.39,255.67 117.79,258.48 127.18,262.24 132.82,265.06 136.58,268.82 144.09,273.52 151.61,278.21 159.12,281.03 164.76,284.79 170.39,287.61 176.03,289.48" stroke="#245c6c" stroke-width="0.85"/><polyline points="25.88,242.52 39.03,251.91 52.18,255.67 61.58,257.55 70.97,260.36 80.36,262.24 89.76,263.18 99,264.12 117.79,265.06 136.58,266.94 155.36,268.82 176.03,269.76" stroke="#dcb83a" stroke-width="0.85"/><polyline points="25.88,242.52 33.39,250.97 42.79,256.61 52.18,261.3 61.58,264.12 72.85,266 86,267.32 99,268.82 117.79,270.7 136.58,273.52 155.36,275.39 170.39,276.33 173.21,281.97 176.03,284.79" stroke="#8440b8" stroke-width="0.85"/><polyline points="25.88,242.52 39.03,252.85 52.18,257.55 65.33,260.36 76.61,263.18 89.76,266.94 99,271.64 108.39,273.52 117.79,278.21 123.42,281.97 129.06,287.61 136.58,290.42 145.97,293.24 155.36,295.5 176.03,297.94" stroke="#d98c2e" stroke-width="0.85"/><polyline points="25.88,242.52 35.27,251.91 46.55,257.55 61.58,263.18 72.85,269.76 80.36,273.52 87.88,278.21 93.52,281.97 97.27,287.61 99,291.36 104.64,293.24 110.27,299.82 117.79,303.58 127.18,307.33 134.7,311.09 145.97,312.97 176.03,313.53" stroke="#7d5636" stroke-width="0.85"/><polyline points="25.88,243.45 31.52,257.55 37.15,265.06 44.67,272.58 52.18,280.09 61.58,285.73 70.97,289.48 80.36,295.12 89.76,300.76 99,305.45 117.79,308.27 136.58,312.03 155.36,314.85 176.03,316.73" stroke="#e56c48" stroke-width="0.85"/><polyline points="25.88,242.52 31.52,251.91 37.15,259.42 42.79,266.94 46.55,274.45 52.18,280.09 59.7,284.79 67.21,290.42 74.73,295.12 82.24,299.82 89.76,304.52 99,307.33 117.79,309.21 136.58,311.09 155.36,312.97 176.03,313.91" stroke="#3a8a50" stroke-width="0.85"/><polyline points="25.88,242.52 29.64,250.03 33.39,255.67 39.03,261.3 42.79,266.94 48.42,272.58 54.06,278.21 61.58,281.97 69.09,283.85 72.85,285.73 74.73,289.48 80.36,293.24 86,295.12 93.52,297 95.39,304.52 99,306.39 110.27,306.77 176.03,307.33" stroke="#22b4c2" stroke-width="0.85"/><polyline points="25.88,242.52 28.7,253.79 31.52,263.18 34.33,272.58 37.15,280.09 40.91,283.85 44.67,288.55 47.48,293.24 50.3,297 55.94,301.7 61.58,305.45 69.09,309.21 76.61,312.03 84.12,313.91 93.52,315.41 99,316.16 114.03,317.67 119.67,320.48 136.58,321.42 176.03,321.42" stroke="#b81a40" stroke-width="1.4"/></g>
<clipPath id="c6"><rect x="25.8" y="237.1" width="149.7" height="88.8"/></clipPath>
<rect x="25.8" y="237.1" width="149.7" height="88.8" fill="none" stroke="#555" stroke-width="0.7"/>
<g stroke="#555" stroke-width="0.6"><line x1="25.8" y1="325.9" x2="25.8" y2="324.7"/><line x1="40.77" y1="325.9" x2="40.77" y2="324.7"/><line x1="55.74" y1="325.9" x2="55.74" y2="324.7"/><line x1="70.71" y1="325.9" x2="70.71" y2="324.7"/><line x1="85.68" y1="325.9" x2="85.68" y2="324.7"/><line x1="100.65" y1="325.9" x2="100.65" y2="324.7"/><line x1="115.62" y1="325.9" x2="115.62" y2="324.7"/><line x1="130.59" y1="325.9" x2="130.59" y2="324.7"/><line x1="145.56" y1="325.9" x2="145.56" y2="324.7"/><line x1="160.53" y1="325.9" x2="160.53" y2="324.7"/><line x1="175.5" y1="325.9" x2="175.5" y2="324.7"/><line x1="25.8" y1="238.1" x2="27" y2="238.1"/><line x1="25.8" y1="250.1" x2="27" y2="250.1"/><line x1="25.8" y1="262" x2="27" y2="262"/><line x1="25.8" y1="274" x2="27" y2="274"/><line x1="25.8" y1="286.1" x2="27" y2="286.1"/><line x1="25.8" y1="298.1" x2="27" y2="298.1"/><line x1="25.8" y1="310" x2="27" y2="310"/><line x1="25.8" y1="322" x2="27" y2="322"/></g>
<g fill="#000"><text transform="translate(25.8 331.1) scale(0.1)" font-size="38" text-anchor="middle">0</text><text transform="translate(40.77 331.1) scale(0.1)" font-size="38" text-anchor="middle">50</text><text transform="translate(55.74 331.1) scale(0.1)" font-size="38" text-anchor="middle">100</text><text transform="translate(70.71 331.1) scale(0.1)" font-size="38" text-anchor="middle">150</text><text transform="translate(85.68 331.1) scale(0.1)" font-size="38" text-anchor="middle">200</text><text transform="translate(100.65 331.1) scale(0.1)" font-size="38" text-anchor="middle">250</text><text transform="translate(115.62 331.1) scale(0.1)" font-size="38" text-anchor="middle">300</text><text transform="translate(130.59 331.1) scale(0.1)" font-size="38" text-anchor="middle">350</text><text transform="translate(145.56 331.1) scale(0.1)" font-size="38" text-anchor="middle">400</text><text transform="translate(160.53 331.1) scale(0.1)" font-size="38" text-anchor="middle">450</text><text transform="translate(175.5 331.1) scale(0.1)" font-size="38" text-anchor="middle">500</text><text transform="translate(23.2 240.4) scale(0.1)" font-size="40" text-anchor="end">10<tspan font-size="26" dy="-29">11</tspan></text><text transform="translate(23.2 252.4) scale(0.1)" font-size="40" text-anchor="end">10<tspan font-size="26" dy="-29">10</tspan></text><text transform="translate(23.2 264.3) scale(0.1)" font-size="40" text-anchor="end">10<tspan font-size="26" dy="-29">9</tspan></text><text transform="translate(23.2 276.3) scale(0.1)" font-size="40" text-anchor="end">10<tspan font-size="26" dy="-29">8</tspan></text><text transform="translate(23.2 288.4) scale(0.1)" font-size="40" text-anchor="end">10<tspan font-size="26" dy="-29">7</tspan></text><text transform="translate(23.2 300.4) scale(0.1)" font-size="40" text-anchor="end">10<tspan font-size="26" dy="-29">6</tspan></text><text transform="translate(23.2 312.3) scale(0.1)" font-size="40" text-anchor="end">10<tspan font-size="26" dy="-29">5</tspan></text><text transform="translate(23.2 324.3) scale(0.1)" font-size="40" text-anchor="end">10<tspan font-size="26" dy="-29">4</tspan></text><text transform="translate(100.65 335.8) scale(0.1)" font-size="36" text-anchor="middle">Iteration</text><text transform="translate(14.9 281.5) rotate(-90) scale(0.1)" font-size="37" text-anchor="middle">Best Fitness Value</text><text transform="translate(100.65 234.6) scale(0.1)" font-size="46" text-anchor="middle" stroke="#000" stroke-width="0.5">CEC17-F15(Dim=100)</text></g>
<g stroke="#d6d6d6" stroke-width="0.8"><line x1="200" y1="237.1" x2="200" y2="325.9"/><line x1="214.97" y1="237.1" x2="214.97" y2="325.9"/><line x1="229.94" y1="237.1" x2="229.94" y2="325.9"/><line x1="244.91" y1="237.1" x2="244.91" y2="325.9"/><line x1="259.88" y1="237.1" x2="259.88" y2="325.9"/><line x1="274.85" y1="237.1" x2="274.85" y2="325.9"/><line x1="289.82" y1="237.1" x2="289.82" y2="325.9"/><line x1="304.79" y1="237.1" x2="304.79" y2="325.9"/><line x1="319.76" y1="237.1" x2="319.76" y2="325.9"/><line x1="334.73" y1="237.1" x2="334.73" y2="325.9"/><line x1="349.7" y1="237.1" x2="349.7" y2="325.9"/><line x1="200" y1="254.6" x2="349.7" y2="254.6"/><line x1="200" y1="279.5" x2="349.7" y2="279.5"/><line x1="200" y1="304.3" x2="349.7" y2="304.3"/></g>
<g fill="none" stroke-linejoin="round" stroke-linecap="round" clip-path="url(#c7)"><polyline points="199.88,237.25 200.07,246.27 200.25,253.79 203.64,261.3 207.39,263.18 211.15,266.94 214.91,274.45 218.67,275.39 235.58,275.39 261.88,275.96 263.76,279.15 273,279.72 275.82,279.72 276.76,284.22 284.27,285.73 286.15,289.48 289.91,292.3 299.3,293.24 329.36,293.62 333.12,297 350.03,297.38" stroke="#245c6c" stroke-width="0.85"/><polyline points="199.88,259.42 207.39,272.58 216.79,278.21 235.58,281.03 254.36,282.91 273,284.22 350.03,287.23" stroke="#a03c82" stroke-width="0.85"/><polyline points="199.88,259.42 207.39,270.7 216.79,277.27 226.18,280.09 244.97,281.97 269.39,283.47 273,284.79 350.03,287.98" stroke="#8440b8" stroke-width="0.85"/><polyline points="199.88,242.52 200.07,251.91 200.25,257.55 205.52,266.94 211.15,272.58 216.79,278.21 226.18,282.91 235.58,283.85 254.36,284.79 269.39,286.1 273,287.61 350.03,288.55" stroke="#3f7cc4" stroke-width="0.85"/><polyline points="199.88,259.42 207.39,274.45 216.79,281.97 235.58,285.73 254.36,285.73 273,285.73 284.27,286.67 289.91,291.36 301.18,295.12 319.97,297.94 335,299.82 350.03,301.7" stroke="#5e524e" stroke-width="0.85"/><polyline points="199.88,263.18 205.52,276.33 213.03,281.97 226.18,287.61 244.97,293.24 260,295.5 273,296.06 310.58,297.94 350.03,298.88" stroke="#dcb83a" stroke-width="0.85"/><polyline points="199.88,240.64 200.07,251.91 200.25,261.3 205.52,278.21 213.03,285.73 220.55,289.48 235.58,295.12 254.36,297.94 273,298.88 310.58,301.7 350.03,304.52" stroke="#d98c2e" stroke-width="0.85"/><polyline points="199.88,238.76 200.07,250.03 200.25,257.55 207.39,272.58 216.79,281.97 226.18,285.73 235.58,289.48 243.09,291.36 254.36,295.12 263.76,299.82 273,301.7 310.58,303.01 350.03,303.58" stroke="#22b4c2" stroke-width="0.85"/><polyline points="199.88,259.42 205.52,280.09 213.03,285.73 226.18,289.48 244.97,295.12 260,298.88 273,300.76 310.58,303.58 350.03,306.02" stroke="#7d5636" stroke-width="0.85"/><polyline points="199.88,263.18 203.64,278.21 209.27,283.85 214.91,291.36 226.18,295.12 235.58,298.88 254.36,302.64 273,305.45 310.58,308.27 350.03,310.15" stroke="#e56c48" stroke-width="0.85"/><polyline points="199.88,261.3 203.64,285.73 207.39,293.24 213.03,298.88 220.55,300.76 235.58,304.52 254.36,307.33 273,304.52 310.58,307.33 329.36,309.21 350.03,311.09" stroke="#3a8a50" stroke-width="0.85"/><polyline points="199.88,257.55 200.63,272.58 201.76,287.61 203.64,293.24 207.39,297 213.03,299.82 218.67,300.76 222.42,302.64 226.18,306.39 229.94,310.15 233.7,313.91 237.45,315.41 254.36,316.16 273,316.16 291.79,317.29 310.58,317.67 329.36,319.55 350.03,321.8" stroke="#b81a40" stroke-width="1.4"/></g>
<clipPath id="c7"><rect x="200" y="237.1" width="149.7" height="88.8"/></clipPath>
<rect x="200" y="237.1" width="149.7" height="88.8" fill="none" stroke="#555" stroke-width="0.7"/>
<g stroke="#555" stroke-width="0.6"><line x1="200" y1="325.9" x2="200" y2="324.7"/><line x1="214.97" y1="325.9" x2="214.97" y2="324.7"/><line x1="229.94" y1="325.9" x2="229.94" y2="324.7"/><line x1="244.91" y1="325.9" x2="244.91" y2="324.7"/><line x1="259.88" y1="325.9" x2="259.88" y2="324.7"/><line x1="274.85" y1="325.9" x2="274.85" y2="324.7"/><line x1="289.82" y1="325.9" x2="289.82" y2="324.7"/><line x1="304.79" y1="325.9" x2="304.79" y2="324.7"/><line x1="319.76" y1="325.9" x2="319.76" y2="324.7"/><line x1="334.73" y1="325.9" x2="334.73" y2="324.7"/><line x1="349.7" y1="325.9" x2="349.7" y2="324.7"/><line x1="200" y1="254.6" x2="201.2" y2="254.6"/><line x1="200" y1="279.5" x2="201.2" y2="279.5"/><line x1="200" y1="304.3" x2="201.2" y2="304.3"/></g>
<g fill="#000"><text transform="translate(200 331.1) scale(0.1)" font-size="38" text-anchor="middle">0</text><text transform="translate(214.97 331.1) scale(0.1)" font-size="38" text-anchor="middle">50</text><text transform="translate(229.94 331.1) scale(0.1)" font-size="38" text-anchor="middle">100</text><text transform="translate(244.91 331.1) scale(0.1)" font-size="38" text-anchor="middle">150</text><text transform="translate(259.88 331.1) scale(0.1)" font-size="38" text-anchor="middle">200</text><text transform="translate(274.85 331.1) scale(0.1)" font-size="38" text-anchor="middle">250</text><text transform="translate(289.82 331.1) scale(0.1)" font-size="38" text-anchor="middle">300</text><text transform="translate(304.79 331.1) scale(0.1)" font-size="38" text-anchor="middle">350</text><text transform="translate(319.76 331.1) scale(0.1)" font-size="38" text-anchor="middle">400</text><text transform="translate(334.73 331.1) scale(0.1)" font-size="38" text-anchor="middle">450</text><text transform="translate(349.7 331.1) scale(0.1)" font-size="38" text-anchor="middle">500</text><text transform="translate(197.4 256.9) scale(0.1)" font-size="40" text-anchor="end">10<tspan font-size="26" dy="-29">4</tspan></text><text transform="translate(197.4 281.8) scale(0.1)" font-size="40" text-anchor="end">10<tspan font-size="26" dy="-29">3</tspan></text><text transform="translate(197.4 306.6) scale(0.1)" font-size="40" text-anchor="end">10<tspan font-size="26" dy="-29">2</tspan></text><text transform="translate(274.85 335.8) scale(0.1)" font-size="36" text-anchor="middle">Iteration</text><text transform="translate(189.3 281.5) rotate(-90) scale(0.1)" font-size="37" text-anchor="middle">Best Fitness Value</text><text transform="translate(274.85 234.6) scale(0.1)" font-size="46" text-anchor="middle" stroke="#000" stroke-width="0.5">CEC17-F16(Dim=100)</text></g>
<g stroke="#d6d6d6" stroke-width="0.8"><line x1="374.6" y1="237.1" x2="374.6" y2="325.9"/><line x1="389.57" y1="237.1" x2="389.57" y2="325.9"/><line x1="404.54" y1="237.1" x2="404.54" y2="325.9"/><line x1="419.51" y1="237.1" x2="419.51" y2="325.9"/><line x1="434.48" y1="237.1" x2="434.48" y2="325.9"/><line x1="449.45" y1="237.1" x2="449.45" y2="325.9"/><line x1="464.42" y1="237.1" x2="464.42" y2="325.9"/><line x1="479.39" y1="237.1" x2="479.39" y2="325.9"/><line x1="494.36" y1="237.1" x2="494.36" y2="325.9"/><line x1="509.33" y1="237.1" x2="509.33" y2="325.9"/><line x1="524.3" y1="237.1" x2="524.3" y2="325.9"/><line x1="374.6" y1="248.2" x2="524.3" y2="248.2"/><line x1="374.6" y1="262.8" x2="524.3" y2="262.8"/><line x1="374.6" y1="277.3" x2="524.3" y2="277.3"/><line x1="374.6" y1="291.8" x2="524.3" y2="291.8"/><line x1="374.6" y1="306.4" x2="524.3" y2="306.4"/><line x1="374.6" y1="320.9" x2="524.3" y2="320.9"/></g>
<g fill="none" stroke-linejoin="round" stroke-linecap="round" clip-path="url(#c8)"><polyline points="374.88,257.55 378.64,259.42 384.27,262.24 391.79,262.81 410.58,263.18 412.45,266.94 415.27,269.76 429.36,270.7 431.24,272.58 448,273.14 498.73,273.14 499.67,280.65 525.03,280.65" stroke="#8440b8" stroke-width="0.85"/><polyline points="374.88,253.79 378.64,255.67 384.27,256.61 386.15,269.76 412.45,269.76 416.21,271.64 429.36,272.58 448,273.52 525.03,273.52" stroke="#245c6c" stroke-width="0.85"/><polyline points="374.88,255.67 382.39,268.82 401.18,272.58 419.97,275.39 438.76,275.96 448,275.96 525.03,276.33" stroke="#a03c82" stroke-width="0.85"/><polyline points="374.88,261.3 380.52,272.58 389.91,276.33 410.58,277.27 429.36,277.84 448,278.21 525.03,278.59" stroke="#5e524e" stroke-width="0.85"/><polyline points="374.88,255.67 380.52,266.94 384.27,274.45 410.58,276.33 419.97,280.09 438.76,281.97 448,282.91 457.39,284.22 466.79,285.35 525.03,286.67" stroke="#dcb83a" stroke-width="0.85"/><polyline points="374.88,257.55 380.52,268.82 388.03,272.58 403.06,274.45 406.82,280.09 438.76,281.03 448,281.03 459.27,285.73 485.58,286.1 525.03,286.1" stroke="#22b4c2" stroke-width="0.85"/><polyline points="374.88,253.79 378.64,254.73 385.21,255.67 386.15,268.82 391.79,270.7 403.06,271.64 404.94,280.09 408.7,281.03 410.58,285.73 421.85,287.61 448,288.17 525.03,288.55" stroke="#3f7cc4" stroke-width="0.85"/><polyline points="374.88,240.64 375.25,253.79 375.82,263.18 377.7,266 380.52,272.58 388.03,280.09 401.18,282.91 419.97,284.22 448,285.73 466.79,287.61 485.58,290.42 504.36,291.36 525.03,292.3" stroke="#d98c2e" stroke-width="0.85"/><polyline points="374.88,255.67 378.64,261.3 382.39,268.82 401.18,270.7 403.06,275.39 419.97,283.85 438.76,291.36 448,296.06 485.58,298.88 525.03,299.82" stroke="#3a8a50" stroke-width="0.85"/><polyline points="374.88,259.42 380.52,280.09 388.03,285.73 401.18,287.61 416.21,289.48 429.36,293.24 438.76,296.06 448,298.88 466.79,300.76 485.58,301.7 525.03,302.64" stroke="#7d5636" stroke-width="0.85"/><polyline points="374.88,261.3 380.52,278.21 391.79,281.97 401.18,285.73 419.97,288.55 438.76,295.12 448,299.82 466.79,300.76 472.42,305.45 485.58,307.33 504.36,309.21 513.76,310.15 525.03,311.09" stroke="#e56c48" stroke-width="0.85"/><polyline points="374.88,261.3 376.38,272.58 377.7,280.09 380.52,289.48 384.27,297 388.03,304.52 391.79,310.15 395.55,312.97 410.58,313.91 419.97,315.79 429.36,316.73 438.76,317.67 448,318.61 466.79,320.48 504.36,321.05 525.03,321.42" stroke="#b81a40" stroke-width="1.4"/></g>
<clipPath id="c8"><rect x="374.6" y="237.1" width="149.7" height="88.8"/></clipPath>
<rect x="374.6" y="237.1" width="149.7" height="88.8" fill="none" stroke="#555" stroke-width="0.7"/>
<g stroke="#555" stroke-width="0.6"><line x1="374.6" y1="325.9" x2="374.6" y2="324.7"/><line x1="389.57" y1="325.9" x2="389.57" y2="324.7"/><line x1="404.54" y1="325.9" x2="404.54" y2="324.7"/><line x1="419.51" y1="325.9" x2="419.51" y2="324.7"/><line x1="434.48" y1="325.9" x2="434.48" y2="324.7"/><line x1="449.45" y1="325.9" x2="449.45" y2="324.7"/><line x1="464.42" y1="325.9" x2="464.42" y2="324.7"/><line x1="479.39" y1="325.9" x2="479.39" y2="324.7"/><line x1="494.36" y1="325.9" x2="494.36" y2="324.7"/><line x1="509.33" y1="325.9" x2="509.33" y2="324.7"/><line x1="524.3" y1="325.9" x2="524.3" y2="324.7"/><line x1="374.6" y1="248.2" x2="375.8" y2="248.2"/><line x1="374.6" y1="262.8" x2="375.8" y2="262.8"/><line x1="374.6" y1="277.3" x2="375.8" y2="277.3"/><line x1="374.6" y1="291.8" x2="375.8" y2="291.8"/><line x1="374.6" y1="306.4" x2="375.8" y2="306.4"/><line x1="374.6" y1="320.9" x2="375.8" y2="320.9"/></g>
<g fill="#000"><text transform="translate(374.6 331.1) scale(0.1)" font-size="38" text-anchor="middle">0</text><text transform="translate(389.57 331.1) scale(0.1)" font-size="38" text-anchor="middle">50</text><text transform="translate(404.54 331.1) scale(0.1)" font-size="38" text-anchor="middle">100</text><text transform="translate(419.51 331.1) scale(0.1)" font-size="38" text-anchor="middle">150</text><text transform="translate(434.48 331.1) scale(0.1)" font-size="38" text-anchor="middle">200</text><text transform="translate(449.45 331.1) scale(0.1)" font-size="38" text-anchor="middle">250</text><text transform="translate(464.42 331.1) scale(0.1)" font-size="38" text-anchor="middle">300</text><text transform="translate(479.39 331.1) scale(0.1)" font-size="38" text-anchor="middle">350</text><text transform="translate(494.36 331.1) scale(0.1)" font-size="38" text-anchor="middle">400</text><text transform="translate(509.33 331.1) scale(0.1)" font-size="38" text-anchor="middle">450</text><text transform="translate(524.3 331.1) scale(0.1)" font-size="38" text-anchor="middle">500</text><text transform="translate(372 249.5) scale(0.1)" font-size="38" text-anchor="end">10000</text><text transform="translate(372 264.1) scale(0.1)" font-size="38" text-anchor="end">9000</text><text transform="translate(372 278.6) scale(0.1)" font-size="38" text-anchor="end">8000</text><text transform="translate(372 293.1) scale(0.1)" font-size="38" text-anchor="end">7000</text><text transform="translate(372 307.7) scale(0.1)" font-size="38" text-anchor="end">6000</text><text transform="translate(372 322.2) scale(0.1)" font-size="38" text-anchor="end">5000</text><text transform="translate(449.45 335.8) scale(0.1)" font-size="36" text-anchor="middle">Iteration</text><text transform="translate(359.2 281.5) rotate(-90) scale(0.1)" font-size="37" text-anchor="middle">Best Fitness Value</text><text transform="translate(449.45 234.6) scale(0.1)" font-size="46" text-anchor="middle" stroke="#000" stroke-width="0.5">CEC17-F20(Dim=100)</text></g>
<g stroke="#d6d6d6" stroke-width="0.8"><line x1="25.8" y1="350.4" x2="25.8" y2="439.2"/><line x1="40.77" y1="350.4" x2="40.77" y2="439.2"/><line x1="55.74" y1="350.4" x2="55.74" y2="439.2"/><line x1="70.71" y1="350.4" x2="70.71" y2="439.2"/><line x1="85.68" y1="350.4" x2="85.68" y2="439.2"/><line x1="100.65" y1="350.4" x2="100.65" y2="439.2"/><line x1="115.62" y1="350.4" x2="115.62" y2="439.2"/><line x1="130.59" y1="350.4" x2="130.59" y2="439.2"/><line x1="145.56" y1="350.4" x2="145.56" y2="439.2"/><line x1="160.53" y1="350.4" x2="160.53" y2="439.2"/><line x1="175.5" y1="350.4" x2="175.5" y2="439.2"/><line x1="25.8" y1="364.3" x2="175.5" y2="364.3"/><line x1="25.8" y1="378.6" x2="175.5" y2="378.6"/><line x1="25.8" y1="392.9" x2="175.5" y2="392.9"/><line x1="25.8" y1="407.2" x2="175.5" y2="407.2"/><line x1="25.8" y1="421.5" x2="175.5" y2="421.5"/><line x1="25.8" y1="435.8" x2="175.5" y2="435.8"/></g>
<g fill="none" stroke-linejoin="round" stroke-linecap="round" clip-path="url(#c9)"><polyline points="25.88,357.39 26.82,364.91 36.21,364.91 37.15,376.18 42.79,377.12 48.42,381.82 55.94,383.7 69.09,384.64 71.91,388.39 95.39,388.39 99,388.39 149.73,388.77 151.61,390.27 176.03,390.27" stroke="#a03c82" stroke-width="0.85"/><polyline points="25.88,363.03 29.64,370.55 33.39,378.06 37.15,380.88 52.18,382.76 56.88,389.33 70.97,392.15 80.36,393.09 95.39,393.09 99,397.22 103.7,397.22 104.64,400.23 107.45,404.36 176.03,404.36" stroke="#3a8a50" stroke-width="0.85"/><polyline points="25.88,359.27 31.52,374.3 39.03,379.94 52.18,385.58 70.97,390.27 80.36,393.09 89.76,396.85 99,401.55 136.58,403.42 176.03,404.74" stroke="#d98c2e" stroke-width="0.85"/><polyline points="25.88,370.55 29.64,379.94 35.27,384.64 42.79,387.45 52.18,391.21 61.58,394.03 70.97,396.85 80.36,398.73 89.76,400.61 99,402.48 176.03,405.3" stroke="#8440b8" stroke-width="0.85"/><polyline points="25.88,366.79 31.52,383.7 39.03,385.58 52.18,389.33 70.97,398.73 89.76,406.24 99,407.75 176.03,408.12" stroke="#3f7cc4" stroke-width="0.85"/><polyline points="25.88,376.18 27.76,396.85 33.39,401.55 42.79,404.36 61.58,406.24 89.76,407.18 99,407.18 114.03,408.12 127.18,410 129.06,413.76 138.45,414.7 142.21,418.45 155.36,419.39 176.03,422.21" stroke="#245c6c" stroke-width="0.85"/><polyline points="25.88,385.58 29.64,398.73 37.15,402.48 46.55,405.3 61.58,408.12 80.36,410 99,409.06 117.79,410 136.58,411.88 155.36,414.7 176.03,417.52" stroke="#5e524e" stroke-width="0.85"/><polyline points="25.88,366.79 31.52,376.18 42.79,380.88 61.58,387.45 80.36,396.85 95.39,410 99,414.7 136.58,418.45 176.03,423.15" stroke="#dcb83a" stroke-width="0.85"/><polyline points="25.88,391.21 31.52,400.61 42.79,406.24 61.58,410 80.36,412.82 99,417.52 136.58,422.21 176.03,425.03" stroke="#7d5636" stroke-width="0.85"/><polyline points="25.88,385.58 27.76,402.48 31.52,410 39.03,413.76 48.42,417.52 61.58,419.39 80.36,421.27 99,422.21 136.58,426.91 176.03,428.79" stroke="#e56c48" stroke-width="0.85"/><polyline points="25.88,394.97 27.76,408.12 31.52,412.82 37.15,416.58 42.79,419.39 52.18,424.09 61.58,427.85 70.97,430.67 80.36,433.48 89.76,434.42 99,434.8 176.03,434.8" stroke="#22b4c2" stroke-width="0.85"/><polyline points="25.88,366.79 26.82,385.58 27.76,400.61 29.64,408.12 33.39,412.82 39.03,414.7 42.79,417.52 48.42,420.33 55.94,422.21 67.21,423.15 74.73,424.09 80.36,425.03 89.76,425.41 99,425.97 104.64,426.91 110.27,429.73 127.18,431.61 145.97,433.48 176.03,434.42" stroke="#b81a40" stroke-width="1.4"/></g>
<clipPath id="c9"><rect x="25.8" y="350.4" width="149.7" height="88.8"/></clipPath>
<rect x="25.8" y="350.4" width="149.7" height="88.8" fill="none" stroke="#555" stroke-width="0.7"/>
<g stroke="#555" stroke-width="0.6"><line x1="25.8" y1="439.2" x2="25.8" y2="438"/><line x1="40.77" y1="439.2" x2="40.77" y2="438"/><line x1="55.74" y1="439.2" x2="55.74" y2="438"/><line x1="70.71" y1="439.2" x2="70.71" y2="438"/><line x1="85.68" y1="439.2" x2="85.68" y2="438"/><line x1="100.65" y1="439.2" x2="100.65" y2="438"/><line x1="115.62" y1="439.2" x2="115.62" y2="438"/><line x1="130.59" y1="439.2" x2="130.59" y2="438"/><line x1="145.56" y1="439.2" x2="145.56" y2="438"/><line x1="160.53" y1="439.2" x2="160.53" y2="438"/><line x1="175.5" y1="439.2" x2="175.5" y2="438"/><line x1="25.8" y1="364.3" x2="27" y2="364.3"/><line x1="25.8" y1="378.6" x2="27" y2="378.6"/><line x1="25.8" y1="392.9" x2="27" y2="392.9"/><line x1="25.8" y1="407.2" x2="27" y2="407.2"/><line x1="25.8" y1="421.5" x2="27" y2="421.5"/><line x1="25.8" y1="435.8" x2="27" y2="435.8"/></g>
<g fill="#000"><text transform="translate(25.8 444.4) scale(0.1)" font-size="38" text-anchor="middle">0</text><text transform="translate(40.77 444.4) scale(0.1)" font-size="38" text-anchor="middle">50</text><text transform="translate(55.74 444.4) scale(0.1)" font-size="38" text-anchor="middle">100</text><text transform="translate(70.71 444.4) scale(0.1)" font-size="38" text-anchor="middle">150</text><text transform="translate(85.68 444.4) scale(0.1)" font-size="38" text-anchor="middle">200</text><text transform="translate(100.65 444.4) scale(0.1)" font-size="38" text-anchor="middle">250</text><text transform="translate(115.62 444.4) scale(0.1)" font-size="38" text-anchor="middle">300</text><text transform="translate(130.59 444.4) scale(0.1)" font-size="38" text-anchor="middle">350</text><text transform="translate(145.56 444.4) scale(0.1)" font-size="38" text-anchor="middle">400</text><text transform="translate(160.53 444.4) scale(0.1)" font-size="38" text-anchor="middle">450</text><text transform="translate(175.5 444.4) scale(0.1)" font-size="38" text-anchor="middle">500</text><text transform="translate(23.2 365.6) scale(0.1)" font-size="38" text-anchor="end">5500</text><text transform="translate(23.2 379.9) scale(0.1)" font-size="38" text-anchor="end">5000</text><text transform="translate(23.2 394.2) scale(0.1)" font-size="38" text-anchor="end">4500</text><text transform="translate(23.2 408.5) scale(0.1)" font-size="38" text-anchor="end">4000</text><text transform="translate(23.2 422.8) scale(0.1)" font-size="38" text-anchor="end">3500</text><text transform="translate(23.2 437.1) scale(0.1)" font-size="38" text-anchor="end">3000</text><text transform="translate(100.65 449.1) scale(0.1)" font-size="36" text-anchor="middle">Iteration</text><text transform="translate(12.3 394.8) rotate(-90) scale(0.1)" font-size="37" text-anchor="middle">Best Fitness Value</text><text transform="translate(100.65 347.9) scale(0.1)" font-size="46" text-anchor="middle" stroke="#000" stroke-width="0.5">CEC17-F21(Dim=100)</text></g>
<g stroke="#d6d6d6" stroke-width="0.8"><line x1="200" y1="350.4" x2="200" y2="439.2"/><line x1="214.97" y1="350.4" x2="214.97" y2="439.2"/><line x1="229.94" y1="350.4" x2="229.94" y2="439.2"/><line x1="244.91" y1="350.4" x2="244.91" y2="439.2"/><line x1="259.88" y1="350.4" x2="259.88" y2="439.2"/><line x1="274.85" y1="350.4" x2="274.85" y2="439.2"/><line x1="289.82" y1="350.4" x2="289.82" y2="439.2"/><line x1="304.79" y1="350.4" x2="304.79" y2="439.2"/><line x1="319.76" y1="350.4" x2="319.76" y2="439.2"/><line x1="334.73" y1="350.4" x2="334.73" y2="439.2"/><line x1="349.7" y1="350.4" x2="349.7" y2="439.2"/><line x1="200" y1="363.2" x2="349.7" y2="363.2"/><line x1="200" y1="376.7" x2="349.7" y2="376.7"/><line x1="200" y1="390.2" x2="349.7" y2="390.2"/><line x1="200" y1="403.7" x2="349.7" y2="403.7"/><line x1="200" y1="417.2" x2="349.7" y2="417.2"/><line x1="200" y1="430.7" x2="349.7" y2="430.7"/></g>
<g fill="none" stroke-linejoin="round" stroke-linecap="round" clip-path="url(#c10)"><polyline points="200.25,363.03 201.76,394.97 205.52,399.67 209.27,400.61 240.27,400.98 242.15,402.86 269.39,403.61 273,403.8 304.94,403.8 306.82,404.74 338.76,405.3 342.52,406.24 350.03,406.24" stroke="#a03c82" stroke-width="0.85"/><polyline points="200.25,366.79 202.7,398.73 207.39,403.42 213.03,406.24 222.42,407.18 229.94,407.75 244.97,408.12 269.39,409.06 273,410 350.03,410" stroke="#3f7cc4" stroke-width="0.85"/><polyline points="200.25,370.55 203.64,400.61 209.27,404.36 216.79,407.18 228.06,408.12 231.82,410.94 237.45,412.82 241.21,415.64 246.85,417.52 254.36,419.02 273,420.33 350.03,421.27" stroke="#245c6c" stroke-width="0.85"/><polyline points="200.25,372.42 203.64,402.48 209.27,410 216.79,413.76 235.58,417.52 254.36,419.39 273,420.33 350.03,420.9" stroke="#8440b8" stroke-width="0.85"/><polyline points="200.25,370.55 203.64,389.33 209.27,402.48 216.79,410 235.58,414.7 254.36,418.45 273,422.21 350.03,424.09" stroke="#dcb83a" stroke-width="0.85"/><polyline points="200.25,376.18 203.64,396.85 209.27,406.24 216.79,411.88 235.58,416.58 254.36,419.39 273,422.21 350.03,423.15" stroke="#d98c2e" stroke-width="0.85"/><polyline points="200.25,376.18 203.64,408.12 209.27,413.76 220.55,416.58 235.58,418.45 254.36,420.33 273,423.15 350.03,425.03" stroke="#7d5636" stroke-width="0.85"/><polyline points="200.25,374.3 203.64,410 209.27,414.7 220.55,417.14 235.58,419.02 254.36,420.9 273,423.53 350.03,425.41" stroke="#5e524e" stroke-width="0.85"/><polyline points="200.25,376.18 203.64,411.88 209.27,417.52 220.55,420.33 235.58,422.21 254.36,424.09 273,425.03 301.18,425.41 303.06,427.85 310.58,429.73 329.36,431.61 350.03,432.55" stroke="#3a8a50" stroke-width="0.85"/><polyline points="200.25,385.58 203.64,413.76 211.15,421.27 226.18,425.03 244.97,426.91 269.39,428.79 273,430.67 350.03,432.55" stroke="#e56c48" stroke-width="0.85"/><polyline points="200.25,394.97 201.76,417.52 205.52,423.15 213.03,427.85 226.18,431.61 244.97,434.05 269.39,434.61 273,434.61 350.03,435.18" stroke="#22b4c2" stroke-width="0.85"/><polyline points="199.88,353.64 200.25,376.18 200.82,394.97 201.76,410 203.64,417.52 207.39,422.21 213.03,425.03 220.55,426.91 231.82,428.41 244.97,429.73 254.36,430.67 263.76,431.04 273,432.55 291.79,433.48 310.58,433.86 350.03,434.42" stroke="#b81a40" stroke-width="1.4"/></g>
<clipPath id="c10"><rect x="200" y="350.4" width="149.7" height="88.8"/></clipPath>
<rect x="200" y="350.4" width="149.7" height="88.8" fill="none" stroke="#555" stroke-width="0.7"/>
<g stroke="#555" stroke-width="0.6"><line x1="200" y1="439.2" x2="200" y2="438"/><line x1="214.97" y1="439.2" x2="214.97" y2="438"/><line x1="229.94" y1="439.2" x2="229.94" y2="438"/><line x1="244.91" y1="439.2" x2="244.91" y2="438"/><line x1="259.88" y1="439.2" x2="259.88" y2="438"/><line x1="274.85" y1="439.2" x2="274.85" y2="438"/><line x1="289.82" y1="439.2" x2="289.82" y2="438"/><line x1="304.79" y1="439.2" x2="304.79" y2="438"/><line x1="319.76" y1="439.2" x2="319.76" y2="438"/><line x1="334.73" y1="439.2" x2="334.73" y2="438"/><line x1="349.7" y1="439.2" x2="349.7" y2="438"/><line x1="200" y1="363.2" x2="201.2" y2="363.2"/><line x1="200" y1="376.7" x2="201.2" y2="376.7"/><line x1="200" y1="390.2" x2="201.2" y2="390.2"/><line x1="200" y1="403.7" x2="201.2" y2="403.7"/><line x1="200" y1="417.2" x2="201.2" y2="417.2"/><line x1="200" y1="430.7" x2="201.2" y2="430.7"/></g>
<g fill="#000"><text transform="translate(200 444.4) scale(0.1)" font-size="38" text-anchor="middle">0</text><text transform="translate(214.97 444.4) scale(0.1)" font-size="38" text-anchor="middle">50</text><text transform="translate(229.94 444.4) scale(0.1)" font-size="38" text-anchor="middle">100</text><text transform="translate(244.91 444.4) scale(0.1)" font-size="38" text-anchor="middle">150</text><text transform="translate(259.88 444.4) scale(0.1)" font-size="38" text-anchor="middle">200</text><text transform="translate(274.85 444.4) scale(0.1)" font-size="38" text-anchor="middle">250</text><text transform="translate(289.82 444.4) scale(0.1)" font-size="38" text-anchor="middle">300</text><text transform="translate(304.79 444.4) scale(0.1)" font-size="38" text-anchor="middle">350</text><text transform="translate(319.76 444.4) scale(0.1)" font-size="38" text-anchor="middle">400</text><text transform="translate(334.73 444.4) scale(0.1)" font-size="38" text-anchor="middle">450</text><text transform="translate(349.7 444.4) scale(0.1)" font-size="38" text-anchor="middle">500</text><text transform="translate(197.4 364.5) scale(0.1)" font-size="38" text-anchor="end">9000</text><text transform="translate(197.4 378) scale(0.1)" font-size="38" text-anchor="end">8000</text><text transform="translate(197.4 391.5) scale(0.1)" font-size="38" text-anchor="end">7000</text><text transform="translate(197.4 405) scale(0.1)" font-size="38" text-anchor="end">6000</text><text transform="translate(197.4 418.5) scale(0.1)" font-size="38" text-anchor="end">5000</text><text transform="translate(197.4 432) scale(0.1)" font-size="38" text-anchor="end">4000</text><text transform="translate(274.85 449.1) scale(0.1)" font-size="36" text-anchor="middle">Iteration</text><text transform="translate(187.3 394.8) rotate(-90) scale(0.1)" font-size="37" text-anchor="middle">Best Fitness Value</text><text transform="translate(274.85 347.9) scale(0.1)" font-size="46" text-anchor="middle" stroke="#000" stroke-width="0.5">CEC17-F23(Dim=100)</text></g>
<g stroke="#d6d6d6" stroke-width="0.8"><line x1="374.6" y1="350.4" x2="374.6" y2="439.2"/><line x1="389.57" y1="350.4" x2="389.57" y2="439.2"/><line x1="404.54" y1="350.4" x2="404.54" y2="439.2"/><line x1="419.51" y1="350.4" x2="419.51" y2="439.2"/><line x1="434.48" y1="350.4" x2="434.48" y2="439.2"/><line x1="449.45" y1="350.4" x2="449.45" y2="439.2"/><line x1="464.42" y1="350.4" x2="464.42" y2="439.2"/><line x1="479.39" y1="350.4" x2="479.39" y2="439.2"/><line x1="494.36" y1="350.4" x2="494.36" y2="439.2"/><line x1="509.33" y1="350.4" x2="509.33" y2="439.2"/><line x1="524.3" y1="350.4" x2="524.3" y2="439.2"/><line x1="374.6" y1="355.1" x2="524.3" y2="355.1"/><line x1="374.6" y1="371.3" x2="524.3" y2="371.3"/><line x1="374.6" y1="387.4" x2="524.3" y2="387.4"/><line x1="374.6" y1="403.5" x2="524.3" y2="403.5"/><line x1="374.6" y1="419.5" x2="524.3" y2="419.5"/><line x1="374.6" y1="435.6" x2="524.3" y2="435.6"/></g>
<g fill="none" stroke-linejoin="round" stroke-linecap="round" clip-path="url(#c11)"><polyline points="374.88,354.58 382.39,361.53 401.18,362.09 419.97,362.47 448,363.03 525.03,363.03" stroke="#3f7cc4" stroke-width="0.85"/><polyline points="374.88,355.52 384.27,364.91 401.18,366.79 419.97,368.29 436.88,368.67 448,368.67 525.03,370.17" stroke="#5e524e" stroke-width="0.85"/><polyline points="374.88,354.58 384.27,364.91 401.18,368.67 419.97,370.55 448,372.42 491.21,374.3 525.03,376.18" stroke="#a03c82" stroke-width="0.85"/><polyline points="374.88,354.58 382.39,363.97 391.79,369.61 401.18,371.48 419.97,372.05 438.76,372.42 448,372.42 491.21,374.3 496.85,378.06 502.48,383.7 508.12,391.21 511.88,394.03 525.03,395.91" stroke="#8440b8" stroke-width="0.85"/><polyline points="374.88,354.58 384.27,361.53 410.58,362.65 416.21,365.85 419.97,367.73 435,368.67 448,374.3 453.64,376.18 459.27,379 472.42,379.94 476.18,382.76 481.82,384.64 491.21,386.52 496.85,389.33 504.36,392.15 513.76,394.97 525.03,398.73" stroke="#245c6c" stroke-width="0.85"/><polyline points="374.88,355.52 384.27,372.42 401.18,375.24 419.97,378.06 435,379.94 448,380.88 476.18,382.76 494.97,385.58 525.03,386.52" stroke="#dcb83a" stroke-width="0.85"/><polyline points="374.88,355.52 382.39,363.03 391.79,365.85 410.58,368.67 429.36,372.42 438.76,376.18 448,381.82 466.79,383.7 485.58,385.58 504.36,387.45 525.03,390.27" stroke="#d98c2e" stroke-width="0.85"/><polyline points="374.88,356.45 382.39,372.42 391.79,379.94 401.18,382.76 410.58,383.7 429.36,384.64 448,385.58 525.03,386.52" stroke="#e56c48" stroke-width="0.85"/><polyline points="374.88,355.52 380.52,370.55 386.15,378.06 391.79,380.88 401.18,382.76 410.58,384.64 419.97,387.45 429.36,390.27 438.76,394.03 444.39,396.85 448,400.61 466.79,403.42 485.58,406.24 504.36,409.06 525.03,410" stroke="#7d5636" stroke-width="0.85"/><polyline points="374.88,355.52 380.52,364.91 388.03,372.42 393.67,380.88 397.42,385.58 403.06,389.33 408.7,394.03 416.21,398.73 423.73,402.48 431.24,404.36 440.64,406.24 448,407.18 466.79,408.12 481.82,410.94 504.36,411.88 525.03,411.88" stroke="#3a8a50" stroke-width="0.85"/><polyline points="374.88,355.52 378.64,363.03 384.27,369.61 389.91,375.24 393.67,380.88 399.3,385.58 404.94,391.21 410.58,394.97 418.09,398.73 423.73,402.48 429.36,408.12 435,415.64 438.76,420.33 444.39,422.21 448,422.78 525.03,423.15" stroke="#22b4c2" stroke-width="0.85"/><polyline points="374.88,355.52 376.76,361.15 378.64,368.67 381.45,378.06 384.27,385.58 388.03,393.09 391.79,398.73 395.55,402.48 401.18,404.36 406.82,406.24 410.58,410 414.33,413.76 418.09,417.52 423.73,419.39 429.36,420.9 438.76,422.78 448,424.09 466.79,425.97 476.18,426.91 481.82,429.73 494.97,431.61 513.76,433.48 525.03,434.8" stroke="#b81a40" stroke-width="1.4"/></g>
<clipPath id="c11"><rect x="374.6" y="350.4" width="149.7" height="88.8"/></clipPath>
<rect x="374.6" y="350.4" width="149.7" height="88.8" fill="none" stroke="#555" stroke-width="0.7"/>
<g stroke="#555" stroke-width="0.6"><line x1="374.6" y1="439.2" x2="374.6" y2="438"/><line x1="389.57" y1="439.2" x2="389.57" y2="438"/><line x1="404.54" y1="439.2" x2="404.54" y2="438"/><line x1="419.51" y1="439.2" x2="419.51" y2="438"/><line x1="434.48" y1="439.2" x2="434.48" y2="438"/><line x1="449.45" y1="439.2" x2="449.45" y2="438"/><line x1="464.42" y1="439.2" x2="464.42" y2="438"/><line x1="479.39" y1="439.2" x2="479.39" y2="438"/><line x1="494.36" y1="439.2" x2="494.36" y2="438"/><line x1="509.33" y1="439.2" x2="509.33" y2="438"/><line x1="524.3" y1="439.2" x2="524.3" y2="438"/><line x1="374.6" y1="355.1" x2="375.8" y2="355.1"/><line x1="374.6" y1="371.3" x2="375.8" y2="371.3"/><line x1="374.6" y1="387.4" x2="375.8" y2="387.4"/><line x1="374.6" y1="403.5" x2="375.8" y2="403.5"/><line x1="374.6" y1="419.5" x2="375.8" y2="419.5"/><line x1="374.6" y1="435.6" x2="375.8" y2="435.6"/></g>
<g fill="#000"><text transform="translate(374.6 444.4) scale(0.1)" font-size="38" text-anchor="middle">0</text><text transform="translate(389.57 444.4) scale(0.1)" font-size="38" text-anchor="middle">50</text><text transform="translate(404.54 444.4) scale(0.1)" font-size="38" text-anchor="middle">100</text><text transform="translate(419.51 444.4) scale(0.1)" font-size="38" text-anchor="middle">150</text><text transform="translate(434.48 444.4) scale(0.1)" font-size="38" text-anchor="middle">200</text><text transform="translate(449.45 444.4) scale(0.1)" font-size="38" text-anchor="middle">250</text><text transform="translate(464.42 444.4) scale(0.1)" font-size="38" text-anchor="middle">300</text><text transform="translate(479.39 444.4) scale(0.1)" font-size="38" text-anchor="middle">350</text><text transform="translate(494.36 444.4) scale(0.1)" font-size="38" text-anchor="middle">400</text><text transform="translate(509.33 444.4) scale(0.1)" font-size="38" text-anchor="middle">450</text><text transform="translate(524.3 444.4) scale(0.1)" font-size="38" text-anchor="middle">500</text><text transform="translate(372 357.4) scale(0.1)" font-size="40" text-anchor="end">10<tspan font-size="26" dy="-29">11</tspan></text><text transform="translate(372 373.6) scale(0.1)" font-size="40" text-anchor="end">10<tspan font-size="26" dy="-29">10</tspan></text><text transform="translate(372 389.7) scale(0.1)" font-size="40" text-anchor="end">10<tspan font-size="26" dy="-29">9</tspan></text><text transform="translate(372 405.8) scale(0.1)" font-size="40" text-anchor="end">10<tspan font-size="26" dy="-29">8</tspan></text><text transform="translate(372 421.8) scale(0.1)" font-size="40" text-anchor="end">10<tspan font-size="26" dy="-29">7</tspan></text><text transform="translate(372 437.9) scale(0.1)" font-size="40" text-anchor="end">10<tspan font-size="26" dy="-29">6</tspan></text><text transform="translate(449.45 449.1) scale(0.1)" font-size="36" text-anchor="middle">Iteration</text><text transform="translate(363 394.8) rotate(-90) scale(0.1)" font-size="37" text-anchor="middle">Best Fitness Value</text><text transform="translate(449.45 347.9) scale(0.1)" font-size="46" text-anchor="middle" stroke="#000" stroke-width="0.5">CEC17-F30(Dim=100)</text></g>
<rect x="39.6" y="456.8" width="470.6" height="32" rx="1.6" fill="#fff" stroke="#d8d8d8" stroke-width="0.7"/>
<line x1="43.4" y1="464.6" x2="65.9" y2="464.6" stroke="#b81a40" stroke-width="1.1"/>
<text x="74.2" y="468.3" font-size="10.6" fill="#111">MSSTO</text>
<line x1="43.4" y1="479.7" x2="65.9" y2="479.7" stroke="#3f7cc4" stroke-width="1.1"/>
<text x="74.2" y="483.4" font-size="10.6" fill="#111">STO</text>
<line x1="131.2" y1="464.6" x2="153.7" y2="464.6" stroke="#3a8a50" stroke-width="1.1"/>
<text x="162" y="468.3" font-size="10.6" fill="#111">ASFSSA</text>
<line x1="131.2" y1="479.7" x2="153.7" y2="479.7" stroke="#dcb83a" stroke-width="1.1"/>
<text x="162" y="483.4" font-size="10.6" fill="#111">GWO</text>
<line x1="221" y1="464.6" x2="243.5" y2="464.6" stroke="#8440b8" stroke-width="1.1"/>
<text x="251.8" y="468.3" font-size="10.6" fill="#111">DBO</text>
<line x1="221" y1="479.7" x2="243.5" y2="479.7" stroke="#d98c2e" stroke-width="1.1"/>
<text x="251.8" y="483.4" font-size="10.6" fill="#111">COA</text>
<line x1="295.3" y1="464.6" x2="317.8" y2="464.6" stroke="#5e524e" stroke-width="1.1"/>
<text x="326.1" y="468.3" font-size="10.6" fill="#111">GJO</text>
<line x1="295.3" y1="479.7" x2="317.8" y2="479.7" stroke="#a03c82" stroke-width="1.1"/>
<text x="326.1" y="483.4" font-size="10.6" fill="#111">SABO</text>
<line x1="375.4" y1="464.6" x2="397.9" y2="464.6" stroke="#245c6c" stroke-width="1.1"/>
<text x="406.2" y="468.3" font-size="10.6" fill="#111">WOA</text>
<line x1="375.4" y1="479.7" x2="397.9" y2="479.7" stroke="#7d5636" stroke-width="1.1"/>
<text x="406.2" y="483.4" font-size="10.6" fill="#111">AVOA</text>
<line x1="456.5" y1="464.6" x2="479" y2="464.6" stroke="#22b4c2" stroke-width="1.1"/>
<text x="487.3" y="468.3" font-size="10.6" fill="#111">SO</text>
<line x1="456.5" y1="479.7" x2="479" y2="479.7" stroke="#e56c48" stroke-width="1.1"/>
<text x="487.3" y="483.4" font-size="10.6" fill="#111">PSO</text>
</svg></body></html>
